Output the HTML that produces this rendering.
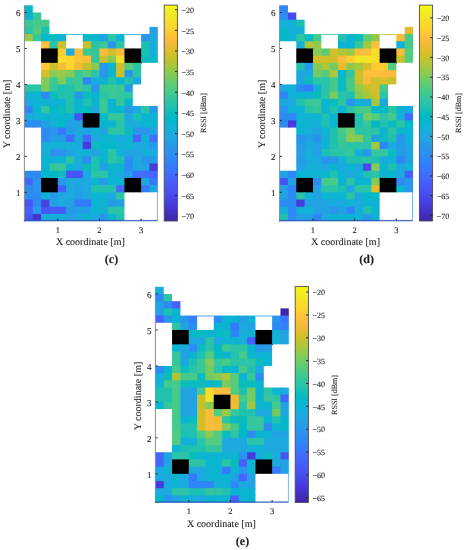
<!DOCTYPE html>
<html><head><meta charset="utf-8"><style>
*{margin:0;padding:0;box-sizing:border-box}
html,body{width:466px;height:550px;background:#fff;overflow:hidden}
body{position:relative;font-family:"Liberation Serif", "Times New Roman", serif;color:#1e1e1e;-webkit-text-stroke:0.1px #1e1e1e;text-rendering:geometricPrecision}
.fig{position:absolute;left:0;top:0;display:block;filter:blur(0.35px)}
.yl,.xl,.lab,.cl,.cbl,.pl{filter:blur(0.25px)}
.ln{position:absolute;background:#8c8c8c}
.tk{position:absolute;background:#262626}
.cbb{position:absolute;border:1px solid #4d4d4d}
.yl{position:absolute;width:20px;text-align:right;font-size:9px;line-height:12px}
.xl{position:absolute;width:20px;text-align:center;font-size:8.5px;line-height:12px}
.lab{position:absolute;width:100px;text-align:center;font-size:10px;line-height:12px;white-space:nowrap}
.cl{position:absolute;font-size:8px;line-height:10px;white-space:nowrap}
.cbl{position:absolute;width:80px;text-align:center;font-size:8px;line-height:10px;white-space:nowrap}
.rot{transform:rotate(-90deg)}
.pl{position:absolute;width:40px;text-align:center;font-size:12px;font-weight:bold;line-height:14px;color:#1a1a1a}
</style></head><body>
<svg class="fig" width="466" height="550" viewBox="0 0 466 550"><g transform="translate(24.40 5.30)"><rect x="0.00" y="0.00" width="8.34" height="7.89" fill="#03b8c9"/><rect x="0.00" y="7.19" width="9.04" height="7.89" fill="#0bb4d1"/><rect x="8.34" y="7.19" width="8.34" height="7.89" fill="#35c79b"/><rect x="0.00" y="14.39" width="9.04" height="7.89" fill="#35c79b"/><rect x="8.34" y="14.39" width="9.04" height="7.89" fill="#45ca89"/><rect x="16.68" y="14.39" width="8.34" height="7.89" fill="#45ca89"/><rect x="0.00" y="21.58" width="9.04" height="7.89" fill="#2cc4a6"/><rect x="8.34" y="21.58" width="9.04" height="7.89" fill="#52cc7e"/><rect x="16.68" y="21.58" width="8.34" height="7.89" fill="#19c0b4"/><rect x="125.06" y="21.58" width="8.34" height="7.89" fill="#21a3e3"/><rect x="0.00" y="28.77" width="9.04" height="7.19" fill="#98c947"/><rect x="8.34" y="28.77" width="9.04" height="7.19" fill="#35c79b"/><rect x="16.68" y="28.77" width="9.04" height="7.89" fill="#03b8c9"/><rect x="25.01" y="28.77" width="9.04" height="7.89" fill="#0bbcbe"/><rect x="33.35" y="28.77" width="8.34" height="7.89" fill="#13b0d8"/><rect x="58.36" y="28.77" width="9.04" height="7.89" fill="#03b9c5"/><rect x="66.70" y="28.77" width="9.04" height="7.89" fill="#0bb4d1"/><rect x="75.04" y="28.77" width="9.04" height="7.89" fill="#21a3e3"/><rect x="83.38" y="28.77" width="9.04" height="7.89" fill="#2cc4a6"/><rect x="91.71" y="28.77" width="8.34" height="7.89" fill="#0bb4d1"/><rect x="116.73" y="28.77" width="9.04" height="7.89" fill="#2995ec"/><rect x="125.06" y="28.77" width="8.34" height="7.89" fill="#1ca9df"/><rect x="16.68" y="35.97" width="9.04" height="7.89" fill="#fdc03a"/><rect x="25.01" y="35.97" width="9.04" height="7.89" fill="#2cc4a6"/><rect x="33.35" y="35.97" width="8.34" height="7.89" fill="#cac12a"/><rect x="58.36" y="35.97" width="9.04" height="7.89" fill="#c2c22d"/><rect x="66.70" y="35.97" width="9.04" height="7.89" fill="#2cc4a6"/><rect x="75.04" y="35.97" width="9.04" height="7.89" fill="#3ac895"/><rect x="83.38" y="35.97" width="9.04" height="7.89" fill="#2995ec"/><rect x="91.71" y="35.97" width="8.34" height="7.89" fill="#2cc4a6"/><rect x="116.73" y="35.97" width="9.04" height="7.89" fill="#19c0b4"/><rect x="125.06" y="35.97" width="8.34" height="7.89" fill="#17aeda"/><rect x="16.68" y="43.16" width="9.04" height="7.89" fill="#000"/><rect x="25.01" y="43.16" width="9.04" height="7.89" fill="#000"/><rect x="33.35" y="43.16" width="9.04" height="7.89" fill="#fdcc32"/><rect x="41.69" y="43.16" width="9.04" height="7.89" fill="#1ca9df"/><rect x="50.03" y="43.16" width="9.04" height="7.89" fill="#fbbd3b"/><rect x="58.36" y="43.16" width="9.04" height="7.89" fill="#3ac895"/><rect x="66.70" y="43.16" width="9.04" height="7.89" fill="#35c79b"/><rect x="75.04" y="43.16" width="9.04" height="7.89" fill="#fbbd3b"/><rect x="83.38" y="43.16" width="9.04" height="7.89" fill="#d1bf29"/><rect x="91.71" y="43.16" width="9.04" height="7.89" fill="#f7bc39"/><rect x="100.05" y="43.16" width="9.04" height="7.89" fill="#000"/><rect x="108.39" y="43.16" width="9.04" height="7.89" fill="#000"/><rect x="116.73" y="43.16" width="9.04" height="7.89" fill="#19c0b4"/><rect x="125.06" y="43.16" width="8.34" height="7.89" fill="#13b0d8"/><rect x="16.68" y="50.35" width="9.04" height="7.89" fill="#000"/><rect x="25.01" y="50.35" width="9.04" height="7.89" fill="#000"/><rect x="33.35" y="50.35" width="9.04" height="7.89" fill="#f8dc2a"/><rect x="41.69" y="50.35" width="9.04" height="7.89" fill="#fbd42e"/><rect x="50.03" y="50.35" width="9.04" height="7.89" fill="#fec438"/><rect x="58.36" y="50.35" width="9.04" height="7.89" fill="#fdc03a"/><rect x="66.70" y="50.35" width="9.04" height="7.89" fill="#35c79b"/><rect x="75.04" y="50.35" width="9.04" height="7.89" fill="#cac12a"/><rect x="83.38" y="50.35" width="9.04" height="7.89" fill="#86cb55"/><rect x="91.71" y="50.35" width="9.04" height="7.89" fill="#f6df29"/><rect x="100.05" y="50.35" width="9.04" height="7.89" fill="#000"/><rect x="108.39" y="50.35" width="9.04" height="7.89" fill="#000"/><rect x="116.73" y="50.35" width="9.04" height="7.19" fill="#0bbcbe"/><rect x="125.06" y="50.35" width="8.34" height="7.19" fill="#03b8c9"/><rect x="16.68" y="57.55" width="9.04" height="7.89" fill="#fec835"/><rect x="25.01" y="57.55" width="9.04" height="7.89" fill="#cac12a"/><rect x="33.35" y="57.55" width="9.04" height="7.89" fill="#f7bc39"/><rect x="41.69" y="57.55" width="9.04" height="7.89" fill="#fbd42e"/><rect x="50.03" y="57.55" width="9.04" height="7.89" fill="#f2bb37"/><rect x="58.36" y="57.55" width="9.04" height="7.89" fill="#c2c22d"/><rect x="66.70" y="57.55" width="9.04" height="7.89" fill="#86cb55"/><rect x="75.04" y="57.55" width="9.04" height="7.89" fill="#2995ec"/><rect x="83.38" y="57.55" width="9.04" height="7.89" fill="#0bb4d1"/><rect x="91.71" y="57.55" width="9.04" height="7.89" fill="#d1bf29"/><rect x="100.05" y="57.55" width="9.04" height="7.89" fill="#52cc7e"/><rect x="108.39" y="57.55" width="8.34" height="7.89" fill="#2cc4a6"/><rect x="16.68" y="64.74" width="9.04" height="7.89" fill="#d8be29"/><rect x="25.01" y="64.74" width="9.04" height="7.89" fill="#86cb55"/><rect x="33.35" y="64.74" width="9.04" height="7.89" fill="#98c947"/><rect x="41.69" y="64.74" width="9.04" height="7.89" fill="#86cb55"/><rect x="50.03" y="64.74" width="9.04" height="7.89" fill="#3ac895"/><rect x="58.36" y="64.74" width="9.04" height="7.89" fill="#52cc7e"/><rect x="66.70" y="64.74" width="9.04" height="7.89" fill="#2cc4a6"/><rect x="75.04" y="64.74" width="9.04" height="7.89" fill="#2995ec"/><rect x="83.38" y="64.74" width="9.04" height="7.89" fill="#0bb4d1"/><rect x="91.71" y="64.74" width="9.04" height="7.89" fill="#cac12a"/><rect x="100.05" y="64.74" width="9.04" height="7.89" fill="#259ae8"/><rect x="108.39" y="64.74" width="8.34" height="7.89" fill="#2cc4a6"/><rect x="16.68" y="71.93" width="9.04" height="7.89" fill="#86cb55"/><rect x="25.01" y="71.93" width="9.04" height="7.89" fill="#3ac895"/><rect x="33.35" y="71.93" width="9.04" height="7.89" fill="#7ccc5c"/><rect x="41.69" y="71.93" width="9.04" height="7.89" fill="#35c79b"/><rect x="50.03" y="71.93" width="9.04" height="7.89" fill="#3ac895"/><rect x="58.36" y="71.93" width="9.04" height="7.89" fill="#2e85f8"/><rect x="66.70" y="71.93" width="9.04" height="7.89" fill="#17aeda"/><rect x="75.04" y="71.93" width="9.04" height="7.89" fill="#0fb2d4"/><rect x="83.38" y="71.93" width="9.04" height="7.89" fill="#21c1af"/><rect x="91.71" y="71.93" width="9.04" height="7.89" fill="#06b6cd"/><rect x="100.05" y="71.93" width="9.04" height="7.89" fill="#21c1af"/><rect x="108.39" y="71.93" width="8.34" height="7.19" fill="#1ca9df"/><rect x="0.00" y="79.13" width="9.04" height="7.89" fill="#2cc4a6"/><rect x="8.34" y="79.13" width="9.04" height="7.89" fill="#2cc4a6"/><rect x="16.68" y="79.13" width="9.04" height="7.89" fill="#7ccc5c"/><rect x="25.01" y="79.13" width="9.04" height="7.89" fill="#35c79b"/><rect x="33.35" y="79.13" width="9.04" height="7.89" fill="#19c0b4"/><rect x="41.69" y="79.13" width="9.04" height="7.89" fill="#21c1af"/><rect x="50.03" y="79.13" width="9.04" height="7.89" fill="#3ac895"/><rect x="58.36" y="79.13" width="9.04" height="7.89" fill="#2cc4a6"/><rect x="66.70" y="79.13" width="9.04" height="7.89" fill="#2995ec"/><rect x="75.04" y="79.13" width="9.04" height="7.89" fill="#3ac895"/><rect x="83.38" y="79.13" width="9.04" height="7.89" fill="#3ac895"/><rect x="91.71" y="79.13" width="9.04" height="7.89" fill="#3ac895"/><rect x="100.05" y="79.13" width="8.34" height="7.89" fill="#259ae8"/><rect x="0.00" y="86.32" width="9.04" height="7.89" fill="#0fb2d4"/><rect x="8.34" y="86.32" width="9.04" height="7.89" fill="#0bb4d1"/><rect x="16.68" y="86.32" width="9.04" height="7.89" fill="#2d8cf3"/><rect x="25.01" y="86.32" width="9.04" height="7.89" fill="#0bbcbe"/><rect x="33.35" y="86.32" width="9.04" height="7.89" fill="#21c1af"/><rect x="41.69" y="86.32" width="9.04" height="7.89" fill="#21c1af"/><rect x="50.03" y="86.32" width="9.04" height="7.89" fill="#259ae8"/><rect x="58.36" y="86.32" width="9.04" height="7.89" fill="#0bbcbe"/><rect x="66.70" y="86.32" width="9.04" height="7.89" fill="#0bb4d1"/><rect x="75.04" y="86.32" width="9.04" height="7.89" fill="#2cc4a6"/><rect x="83.38" y="86.32" width="9.04" height="7.89" fill="#3ac895"/><rect x="91.71" y="86.32" width="9.04" height="7.89" fill="#35c79b"/><rect x="100.05" y="86.32" width="8.34" height="7.89" fill="#2cc4a6"/><rect x="0.00" y="93.51" width="9.04" height="7.89" fill="#1ca9df"/><rect x="8.34" y="93.51" width="9.04" height="7.89" fill="#0bb4d1"/><rect x="16.68" y="93.51" width="9.04" height="7.89" fill="#0fb2d4"/><rect x="25.01" y="93.51" width="9.04" height="7.89" fill="#0fb2d4"/><rect x="33.35" y="93.51" width="9.04" height="7.89" fill="#0bb4d1"/><rect x="41.69" y="93.51" width="9.04" height="7.89" fill="#21c1af"/><rect x="50.03" y="93.51" width="9.04" height="7.89" fill="#0bb4d1"/><rect x="58.36" y="93.51" width="9.04" height="7.89" fill="#21c1af"/><rect x="66.70" y="93.51" width="9.04" height="7.89" fill="#0bb4d1"/><rect x="75.04" y="93.51" width="9.04" height="7.89" fill="#3ac895"/><rect x="83.38" y="93.51" width="9.04" height="7.89" fill="#0bb4d1"/><rect x="91.71" y="93.51" width="9.04" height="7.89" fill="#35c79b"/><rect x="100.05" y="93.51" width="8.34" height="7.89" fill="#06b6cd"/><rect x="0.00" y="100.71" width="9.04" height="7.89" fill="#2e85f8"/><rect x="8.34" y="100.71" width="9.04" height="7.89" fill="#06b6cd"/><rect x="16.68" y="100.71" width="9.04" height="7.89" fill="#30c5a1"/><rect x="25.01" y="100.71" width="9.04" height="7.89" fill="#03b8c9"/><rect x="33.35" y="100.71" width="9.04" height="7.89" fill="#0bbcbe"/><rect x="41.69" y="100.71" width="9.04" height="7.89" fill="#21c1af"/><rect x="50.03" y="100.71" width="9.04" height="7.89" fill="#03b8c9"/><rect x="58.36" y="100.71" width="9.04" height="7.89" fill="#0bbcbe"/><rect x="66.70" y="100.71" width="9.04" height="7.89" fill="#1ca9df"/><rect x="75.04" y="100.71" width="9.04" height="7.89" fill="#3ac895"/><rect x="83.38" y="100.71" width="9.04" height="7.89" fill="#0bb4d1"/><rect x="91.71" y="100.71" width="9.04" height="7.89" fill="#06b6cd"/><rect x="100.05" y="100.71" width="9.04" height="7.89" fill="#259ae8"/><rect x="108.39" y="100.71" width="9.04" height="7.89" fill="#1ca9df"/><rect x="116.73" y="100.71" width="9.04" height="7.89" fill="#2cc4a6"/><rect x="125.06" y="100.71" width="8.34" height="7.89" fill="#259ae8"/><rect x="0.00" y="107.90" width="9.04" height="7.89" fill="#1ca9df"/><rect x="8.34" y="107.90" width="9.04" height="7.89" fill="#0fb2d4"/><rect x="16.68" y="107.90" width="9.04" height="7.89" fill="#0bb4d1"/><rect x="25.01" y="107.90" width="9.04" height="7.89" fill="#0bb4d1"/><rect x="33.35" y="107.90" width="9.04" height="7.89" fill="#06b6cd"/><rect x="41.69" y="107.90" width="9.04" height="7.89" fill="#0bb4d1"/><rect x="50.03" y="107.90" width="9.04" height="7.89" fill="#4755f5"/><rect x="58.36" y="107.90" width="9.04" height="7.89" fill="#000"/><rect x="66.70" y="107.90" width="9.04" height="7.89" fill="#000"/><rect x="75.04" y="107.90" width="9.04" height="7.89" fill="#03b8c9"/><rect x="83.38" y="107.90" width="9.04" height="7.89" fill="#35c79b"/><rect x="91.71" y="107.90" width="9.04" height="7.89" fill="#35c79b"/><rect x="100.05" y="107.90" width="9.04" height="7.89" fill="#1ca9df"/><rect x="108.39" y="107.90" width="9.04" height="7.89" fill="#19c0b4"/><rect x="116.73" y="107.90" width="9.04" height="7.89" fill="#0bb4d1"/><rect x="125.06" y="107.90" width="8.34" height="7.89" fill="#0bb4d1"/><rect x="0.00" y="115.09" width="9.04" height="7.19" fill="#2d8cf3"/><rect x="8.34" y="115.09" width="9.04" height="7.19" fill="#2d8cf3"/><rect x="16.68" y="115.09" width="9.04" height="7.89" fill="#249de7"/><rect x="25.01" y="115.09" width="9.04" height="7.89" fill="#13b0d8"/><rect x="33.35" y="115.09" width="9.04" height="7.89" fill="#03b8c9"/><rect x="41.69" y="115.09" width="9.04" height="7.89" fill="#21a3e3"/><rect x="50.03" y="115.09" width="9.04" height="7.89" fill="#21a3e3"/><rect x="58.36" y="115.09" width="9.04" height="7.89" fill="#000"/><rect x="66.70" y="115.09" width="9.04" height="7.89" fill="#000"/><rect x="75.04" y="115.09" width="9.04" height="7.89" fill="#0bb4d1"/><rect x="83.38" y="115.09" width="9.04" height="7.89" fill="#0bb4d1"/><rect x="91.71" y="115.09" width="9.04" height="7.89" fill="#2cc4a6"/><rect x="100.05" y="115.09" width="9.04" height="7.89" fill="#17aeda"/><rect x="108.39" y="115.09" width="9.04" height="7.89" fill="#17aeda"/><rect x="116.73" y="115.09" width="9.04" height="7.89" fill="#0bb4d1"/><rect x="125.06" y="115.09" width="8.34" height="7.89" fill="#0bb4d1"/><rect x="16.68" y="122.29" width="9.04" height="7.89" fill="#2d8cf3"/><rect x="25.01" y="122.29" width="9.04" height="7.89" fill="#2995ec"/><rect x="33.35" y="122.29" width="9.04" height="7.89" fill="#347afc"/><rect x="41.69" y="122.29" width="9.04" height="7.89" fill="#249de7"/><rect x="50.03" y="122.29" width="9.04" height="7.89" fill="#1ca9df"/><rect x="58.36" y="122.29" width="9.04" height="7.89" fill="#21a3e3"/><rect x="66.70" y="122.29" width="9.04" height="7.89" fill="#0bb4d1"/><rect x="75.04" y="122.29" width="9.04" height="7.89" fill="#21a3e3"/><rect x="83.38" y="122.29" width="9.04" height="7.89" fill="#2cc4a6"/><rect x="91.71" y="122.29" width="9.04" height="7.89" fill="#2cc4a6"/><rect x="100.05" y="122.29" width="9.04" height="7.89" fill="#0bbcbe"/><rect x="108.39" y="122.29" width="9.04" height="7.89" fill="#2995ec"/><rect x="116.73" y="122.29" width="9.04" height="7.89" fill="#2995ec"/><rect x="125.06" y="122.29" width="8.34" height="7.89" fill="#21a3e3"/><rect x="16.68" y="129.48" width="9.04" height="7.89" fill="#2d8cf3"/><rect x="25.01" y="129.48" width="9.04" height="7.89" fill="#249de7"/><rect x="33.35" y="129.48" width="9.04" height="7.89" fill="#249de7"/><rect x="41.69" y="129.48" width="9.04" height="7.89" fill="#3f6efe"/><rect x="50.03" y="129.48" width="9.04" height="7.89" fill="#1ca9df"/><rect x="58.36" y="129.48" width="9.04" height="7.89" fill="#4367fd"/><rect x="66.70" y="129.48" width="9.04" height="7.89" fill="#1ca9df"/><rect x="75.04" y="129.48" width="9.04" height="7.89" fill="#0bb4d1"/><rect x="83.38" y="129.48" width="9.04" height="7.89" fill="#0bb4d1"/><rect x="91.71" y="129.48" width="9.04" height="7.89" fill="#1ca9df"/><rect x="100.05" y="129.48" width="9.04" height="7.89" fill="#0bb4d1"/><rect x="108.39" y="129.48" width="9.04" height="7.89" fill="#4367fd"/><rect x="116.73" y="129.48" width="9.04" height="7.89" fill="#0fb2d4"/><rect x="125.06" y="129.48" width="8.34" height="7.89" fill="#3f6efe"/><rect x="16.68" y="136.67" width="9.04" height="7.89" fill="#13b0d8"/><rect x="25.01" y="136.67" width="9.04" height="7.89" fill="#13b0d8"/><rect x="33.35" y="136.67" width="9.04" height="7.89" fill="#13b0d8"/><rect x="41.69" y="136.67" width="9.04" height="7.89" fill="#13b0d8"/><rect x="50.03" y="136.67" width="9.04" height="7.89" fill="#1ca9df"/><rect x="58.36" y="136.67" width="9.04" height="7.89" fill="#463cdc"/><rect x="66.70" y="136.67" width="9.04" height="7.89" fill="#0bbcbe"/><rect x="75.04" y="136.67" width="9.04" height="7.89" fill="#06b6cd"/><rect x="83.38" y="136.67" width="9.04" height="7.89" fill="#03b8c9"/><rect x="91.71" y="136.67" width="9.04" height="7.89" fill="#0fb2d4"/><rect x="100.05" y="136.67" width="9.04" height="7.89" fill="#0bb4d1"/><rect x="108.39" y="136.67" width="9.04" height="7.89" fill="#1ca9df"/><rect x="116.73" y="136.67" width="9.04" height="7.89" fill="#1ca9df"/><rect x="125.06" y="136.67" width="8.34" height="7.89" fill="#259ae8"/><rect x="16.68" y="143.87" width="9.04" height="7.89" fill="#13b0d8"/><rect x="25.01" y="143.87" width="9.04" height="7.89" fill="#2b92ee"/><rect x="33.35" y="143.87" width="9.04" height="7.89" fill="#2b92ee"/><rect x="41.69" y="143.87" width="9.04" height="7.89" fill="#21a3e3"/><rect x="50.03" y="143.87" width="9.04" height="7.89" fill="#13b0d8"/><rect x="58.36" y="143.87" width="9.04" height="7.89" fill="#13b0d8"/><rect x="66.70" y="143.87" width="9.04" height="7.89" fill="#21a3e3"/><rect x="75.04" y="143.87" width="9.04" height="7.89" fill="#0bb4d1"/><rect x="83.38" y="143.87" width="9.04" height="7.89" fill="#2cc4a6"/><rect x="91.71" y="143.87" width="9.04" height="7.89" fill="#0fb2d4"/><rect x="100.05" y="143.87" width="9.04" height="7.89" fill="#21a3e3"/><rect x="108.39" y="143.87" width="9.04" height="7.89" fill="#21a3e3"/><rect x="116.73" y="143.87" width="9.04" height="7.89" fill="#0fb2d4"/><rect x="125.06" y="143.87" width="8.34" height="7.89" fill="#1ca9df"/><rect x="16.68" y="151.06" width="9.04" height="7.89" fill="#0bb4d1"/><rect x="25.01" y="151.06" width="9.04" height="7.89" fill="#0fb2d4"/><rect x="33.35" y="151.06" width="9.04" height="7.89" fill="#0bb4d1"/><rect x="41.69" y="151.06" width="9.04" height="7.89" fill="#2cc4a6"/><rect x="50.03" y="151.06" width="9.04" height="7.89" fill="#17aeda"/><rect x="58.36" y="151.06" width="9.04" height="7.89" fill="#2d8cf3"/><rect x="66.70" y="151.06" width="9.04" height="7.89" fill="#21c1af"/><rect x="75.04" y="151.06" width="9.04" height="7.89" fill="#0bb4d1"/><rect x="83.38" y="151.06" width="9.04" height="7.89" fill="#2cc4a6"/><rect x="91.71" y="151.06" width="9.04" height="7.89" fill="#21c1af"/><rect x="100.05" y="151.06" width="9.04" height="7.89" fill="#2d8cf3"/><rect x="108.39" y="151.06" width="9.04" height="7.89" fill="#1ca9df"/><rect x="116.73" y="151.06" width="9.04" height="7.89" fill="#2995ec"/><rect x="125.06" y="151.06" width="8.34" height="7.89" fill="#259ae8"/><rect x="16.68" y="158.25" width="9.04" height="7.89" fill="#0bb4d1"/><rect x="25.01" y="158.25" width="9.04" height="7.89" fill="#35c79b"/><rect x="33.35" y="158.25" width="9.04" height="7.89" fill="#35c79b"/><rect x="41.69" y="158.25" width="9.04" height="7.89" fill="#0bb4d1"/><rect x="50.03" y="158.25" width="9.04" height="7.89" fill="#1ca9df"/><rect x="58.36" y="158.25" width="9.04" height="7.89" fill="#0bbcbe"/><rect x="66.70" y="158.25" width="9.04" height="7.89" fill="#21c1af"/><rect x="75.04" y="158.25" width="9.04" height="7.89" fill="#21a3e3"/><rect x="83.38" y="158.25" width="9.04" height="7.89" fill="#0bb4d1"/><rect x="91.71" y="158.25" width="9.04" height="7.89" fill="#0bb4d1"/><rect x="100.05" y="158.25" width="9.04" height="7.89" fill="#2d8cf3"/><rect x="108.39" y="158.25" width="9.04" height="7.89" fill="#1ca9df"/><rect x="116.73" y="158.25" width="9.04" height="7.89" fill="#21a3e3"/><rect x="125.06" y="158.25" width="8.34" height="7.89" fill="#463cdc"/><rect x="0.00" y="165.45" width="9.04" height="7.89" fill="#2d8cf3"/><rect x="8.34" y="165.45" width="9.04" height="7.89" fill="#2d8cf3"/><rect x="16.68" y="165.45" width="9.04" height="7.89" fill="#03b8c9"/><rect x="25.01" y="165.45" width="9.04" height="7.89" fill="#03b8c9"/><rect x="33.35" y="165.45" width="9.04" height="7.89" fill="#0bbcbe"/><rect x="41.69" y="165.45" width="9.04" height="7.89" fill="#4755f5"/><rect x="50.03" y="165.45" width="9.04" height="7.89" fill="#4755f5"/><rect x="58.36" y="165.45" width="9.04" height="7.89" fill="#1ca9df"/><rect x="66.70" y="165.45" width="9.04" height="7.89" fill="#2cc4a6"/><rect x="75.04" y="165.45" width="9.04" height="7.89" fill="#2cc4a6"/><rect x="83.38" y="165.45" width="9.04" height="7.89" fill="#0bb4d1"/><rect x="91.71" y="165.45" width="9.04" height="7.89" fill="#1ca9df"/><rect x="100.05" y="165.45" width="9.04" height="7.89" fill="#259ae8"/><rect x="108.39" y="165.45" width="9.04" height="7.89" fill="#3f6efe"/><rect x="116.73" y="165.45" width="9.04" height="7.89" fill="#3f6efe"/><rect x="125.06" y="165.45" width="8.34" height="7.89" fill="#4367fd"/><rect x="0.00" y="172.64" width="9.04" height="7.89" fill="#4367fd"/><rect x="8.34" y="172.64" width="9.04" height="7.89" fill="#2995ec"/><rect x="16.68" y="172.64" width="9.04" height="7.89" fill="#000"/><rect x="25.01" y="172.64" width="9.04" height="7.89" fill="#000"/><rect x="33.35" y="172.64" width="9.04" height="7.89" fill="#2995ec"/><rect x="41.69" y="172.64" width="9.04" height="7.89" fill="#1ca9df"/><rect x="50.03" y="172.64" width="9.04" height="7.89" fill="#1ca9df"/><rect x="58.36" y="172.64" width="9.04" height="7.89" fill="#1ca9df"/><rect x="66.70" y="172.64" width="9.04" height="7.89" fill="#0bb4d1"/><rect x="75.04" y="172.64" width="9.04" height="7.89" fill="#259ae8"/><rect x="83.38" y="172.64" width="9.04" height="7.89" fill="#0bb4d1"/><rect x="91.71" y="172.64" width="9.04" height="7.89" fill="#0bb4d1"/><rect x="100.05" y="172.64" width="9.04" height="7.89" fill="#000"/><rect x="108.39" y="172.64" width="9.04" height="7.89" fill="#000"/><rect x="116.73" y="172.64" width="9.04" height="7.89" fill="#1ca9df"/><rect x="125.06" y="172.64" width="8.34" height="7.89" fill="#347afc"/><rect x="0.00" y="179.83" width="9.04" height="7.89" fill="#2d8cf3"/><rect x="8.34" y="179.83" width="9.04" height="7.89" fill="#2995ec"/><rect x="16.68" y="179.83" width="9.04" height="7.89" fill="#000"/><rect x="25.01" y="179.83" width="9.04" height="7.89" fill="#000"/><rect x="33.35" y="179.83" width="9.04" height="7.89" fill="#4560fb"/><rect x="41.69" y="179.83" width="9.04" height="7.89" fill="#1ca9df"/><rect x="50.03" y="179.83" width="9.04" height="7.89" fill="#21a3e3"/><rect x="58.36" y="179.83" width="9.04" height="7.89" fill="#1ca9df"/><rect x="66.70" y="179.83" width="9.04" height="7.89" fill="#21c1af"/><rect x="75.04" y="179.83" width="9.04" height="7.89" fill="#21c1af"/><rect x="83.38" y="179.83" width="9.04" height="7.89" fill="#21c1af"/><rect x="91.71" y="179.83" width="9.04" height="7.89" fill="#3f6efe"/><rect x="100.05" y="179.83" width="9.04" height="7.19" fill="#000"/><rect x="108.39" y="179.83" width="9.04" height="7.19" fill="#000"/><rect x="116.73" y="179.83" width="9.04" height="7.19" fill="#347afc"/><rect x="125.06" y="179.83" width="8.34" height="7.19" fill="#1ca9df"/><rect x="0.00" y="187.03" width="9.04" height="7.89" fill="#2d8cf3"/><rect x="8.34" y="187.03" width="9.04" height="7.89" fill="#2d8cf3"/><rect x="16.68" y="187.03" width="9.04" height="7.89" fill="#0fb2d4"/><rect x="25.01" y="187.03" width="9.04" height="7.89" fill="#259ae8"/><rect x="33.35" y="187.03" width="9.04" height="7.89" fill="#1ca9df"/><rect x="41.69" y="187.03" width="9.04" height="7.89" fill="#1ca9df"/><rect x="50.03" y="187.03" width="9.04" height="7.89" fill="#259ae8"/><rect x="58.36" y="187.03" width="9.04" height="7.89" fill="#1ca9df"/><rect x="66.70" y="187.03" width="9.04" height="7.89" fill="#0bb4d1"/><rect x="75.04" y="187.03" width="9.04" height="7.89" fill="#0bb4d1"/><rect x="83.38" y="187.03" width="9.04" height="7.89" fill="#1ca9df"/><rect x="91.71" y="187.03" width="8.34" height="7.89" fill="#2cc4a6"/><rect x="0.00" y="194.22" width="9.04" height="7.89" fill="#4755f5"/><rect x="8.34" y="194.22" width="9.04" height="7.89" fill="#2d8cf3"/><rect x="16.68" y="194.22" width="9.04" height="7.89" fill="#4743e5"/><rect x="25.01" y="194.22" width="9.04" height="7.89" fill="#21a3e3"/><rect x="33.35" y="194.22" width="9.04" height="7.89" fill="#1ca9df"/><rect x="41.69" y="194.22" width="9.04" height="7.89" fill="#21a3e3"/><rect x="50.03" y="194.22" width="9.04" height="7.89" fill="#347afc"/><rect x="58.36" y="194.22" width="9.04" height="7.89" fill="#347afc"/><rect x="66.70" y="194.22" width="9.04" height="7.89" fill="#0bb4d1"/><rect x="75.04" y="194.22" width="9.04" height="7.89" fill="#0bb4d1"/><rect x="83.38" y="194.22" width="9.04" height="7.89" fill="#259ae8"/><rect x="91.71" y="194.22" width="8.34" height="7.89" fill="#21a3e3"/><rect x="0.00" y="201.41" width="9.04" height="7.89" fill="#4560fb"/><rect x="8.34" y="201.41" width="9.04" height="7.89" fill="#2995ec"/><rect x="16.68" y="201.41" width="9.04" height="7.89" fill="#4755f5"/><rect x="25.01" y="201.41" width="9.04" height="7.89" fill="#465cf9"/><rect x="33.35" y="201.41" width="9.04" height="7.89" fill="#465cf9"/><rect x="41.69" y="201.41" width="9.04" height="7.89" fill="#259ae8"/><rect x="50.03" y="201.41" width="9.04" height="7.89" fill="#249de7"/><rect x="58.36" y="201.41" width="9.04" height="7.89" fill="#22a0e5"/><rect x="66.70" y="201.41" width="9.04" height="7.89" fill="#0bb4d1"/><rect x="75.04" y="201.41" width="9.04" height="7.89" fill="#0fb2d4"/><rect x="83.38" y="201.41" width="9.04" height="7.89" fill="#2cc4a6"/><rect x="91.71" y="201.41" width="8.34" height="7.89" fill="#2cc4a6"/><rect x="0.00" y="208.61" width="9.04" height="7.19" fill="#4755f5"/><rect x="8.34" y="208.61" width="9.04" height="7.19" fill="#4536d3"/><rect x="16.68" y="208.61" width="9.04" height="7.19" fill="#13b0d8"/><rect x="25.01" y="208.61" width="9.04" height="7.19" fill="#13b0d8"/><rect x="33.35" y="208.61" width="9.04" height="7.19" fill="#13b0d8"/><rect x="41.69" y="208.61" width="9.04" height="7.19" fill="#21a3e3"/><rect x="50.03" y="208.61" width="9.04" height="7.19" fill="#1ca9df"/><rect x="58.36" y="208.61" width="9.04" height="7.19" fill="#0bb4d1"/><rect x="66.70" y="208.61" width="9.04" height="7.19" fill="#1ca9df"/><rect x="75.04" y="208.61" width="9.04" height="7.19" fill="#2995ec"/><rect x="83.38" y="208.61" width="9.04" height="7.19" fill="#0bb4d1"/><rect x="91.71" y="208.61" width="8.34" height="7.19" fill="#21c1af"/></g>
<rect x="23.90" y="5.30" width="1" height="216.10" fill="#8c8c8c"/>
<rect x="23.90" y="219.90" width="133.70" height="1.4" fill="#3458b8" fill-opacity="0.85"/>
<rect x="66.09" y="34.07" width="16.68" height="0.8" fill="#08b5cf"/>
<rect x="124.45" y="34.07" width="16.68" height="0.8" fill="#1fa6e1"/>
<rect x="156.90" y="192.33" width="0.8" height="27.77" fill="#5aa0f0"/>
<rect x="24.70" y="191.83" width="2" height="1" fill="#262626"/>
<rect x="24.70" y="155.86" width="2" height="1" fill="#262626"/>
<rect x="24.70" y="119.89" width="2" height="1" fill="#262626"/>
<rect x="24.70" y="83.93" width="2" height="1" fill="#262626"/>
<rect x="24.70" y="47.96" width="2" height="1" fill="#262626"/>
<rect x="24.70" y="11.99" width="2" height="1" fill="#262626"/>
<rect x="57.25" y="218.50" width="1" height="2" fill="#262626"/>
<rect x="98.94" y="218.50" width="1" height="2" fill="#262626"/>
<rect x="140.62" y="218.50" width="1" height="2" fill="#262626"/>
<defs><linearGradient id="gc" x1="0" y1="0" x2="0" y2="1"><stop offset="0.0000" stop-color="#f9fb0e"/><stop offset="0.0159" stop-color="#f5f31a"/><stop offset="0.0317" stop-color="#f3ec23"/><stop offset="0.0476" stop-color="#f4e725"/><stop offset="0.0635" stop-color="#f5e228"/><stop offset="0.0794" stop-color="#f8dc2a"/><stop offset="0.0952" stop-color="#fad62d"/><stop offset="0.1111" stop-color="#fcd030"/><stop offset="0.1270" stop-color="#fec934"/><stop offset="0.1429" stop-color="#fec239"/><stop offset="0.1587" stop-color="#fcbd3b"/><stop offset="0.1746" stop-color="#f5bb38"/><stop offset="0.1905" stop-color="#edba34"/><stop offset="0.2063" stop-color="#e2bc2d"/><stop offset="0.2222" stop-color="#d7be29"/><stop offset="0.2381" stop-color="#cbc12a"/><stop offset="0.2540" stop-color="#bfc32e"/><stop offset="0.2698" stop-color="#b2c535"/><stop offset="0.2857" stop-color="#a4c83e"/><stop offset="0.3016" stop-color="#96ca48"/><stop offset="0.3175" stop-color="#88cb53"/><stop offset="0.3333" stop-color="#79cc5e"/><stop offset="0.3492" stop-color="#6bcd69"/><stop offset="0.3651" stop-color="#5ecc74"/><stop offset="0.3810" stop-color="#52cc7e"/><stop offset="0.3968" stop-color="#47cb87"/><stop offset="0.4127" stop-color="#3dc991"/><stop offset="0.4286" stop-color="#35c79b"/><stop offset="0.4444" stop-color="#2ec5a3"/><stop offset="0.4603" stop-color="#28c3ab"/><stop offset="0.4762" stop-color="#1dc0b2"/><stop offset="0.4921" stop-color="#0fbeba"/><stop offset="0.5079" stop-color="#07bbc1"/><stop offset="0.5238" stop-color="#02b9c7"/><stop offset="0.5397" stop-color="#06b6cd"/><stop offset="0.5556" stop-color="#0db3d3"/><stop offset="0.5714" stop-color="#14b0d8"/><stop offset="0.5873" stop-color="#19acdc"/><stop offset="0.6032" stop-color="#1da8e0"/><stop offset="0.6190" stop-color="#21a4e3"/><stop offset="0.6349" stop-color="#239fe6"/><stop offset="0.6508" stop-color="#259ae9"/><stop offset="0.6667" stop-color="#2896ec"/><stop offset="0.6825" stop-color="#2b91ef"/><stop offset="0.6984" stop-color="#2d8cf3"/><stop offset="0.7143" stop-color="#2e87f7"/><stop offset="0.7302" stop-color="#3081fa"/><stop offset="0.7460" stop-color="#337cfc"/><stop offset="0.7619" stop-color="#3875fd"/><stop offset="0.7778" stop-color="#3e6ffe"/><stop offset="0.7937" stop-color="#4269fe"/><stop offset="0.8095" stop-color="#4563fd"/><stop offset="0.8254" stop-color="#465efa"/><stop offset="0.8413" stop-color="#4658f6"/><stop offset="0.8571" stop-color="#4752f3"/><stop offset="0.8730" stop-color="#484df0"/><stop offset="0.8889" stop-color="#4747e9"/><stop offset="0.9048" stop-color="#4642e3"/><stop offset="0.9206" stop-color="#463cdc"/><stop offset="0.9365" stop-color="#4537d5"/><stop offset="0.9524" stop-color="#4333ca"/><stop offset="0.9683" stop-color="#412fbf"/><stop offset="0.9841" stop-color="#402ab4"/><stop offset="1.0000" stop-color="#3e26a8"/></linearGradient></defs>
<rect x="164.20" y="5.10" width="13.20" height="215.90" fill="url(#gc)" stroke="#4d4d4d" stroke-width="0.9"/>
<rect x="175.00" y="9.22" width="2.4" height="1" fill="#262626"/>
<rect x="175.00" y="29.85" width="2.4" height="1" fill="#262626"/>
<rect x="175.00" y="50.48" width="2.4" height="1" fill="#262626"/>
<rect x="175.00" y="71.11" width="2.4" height="1" fill="#262626"/>
<rect x="175.00" y="91.74" width="2.4" height="1" fill="#262626"/>
<rect x="175.00" y="112.36" width="2.4" height="1" fill="#262626"/>
<rect x="175.00" y="132.99" width="2.4" height="1" fill="#262626"/>
<rect x="175.00" y="153.62" width="2.4" height="1" fill="#262626"/>
<rect x="175.00" y="174.25" width="2.4" height="1" fill="#262626"/>
<rect x="175.00" y="194.88" width="2.4" height="1" fill="#262626"/>
<rect x="175.00" y="215.51" width="2.4" height="1" fill="#262626"/>
<g transform="translate(279.60 5.30)"><rect x="0.00" y="0.00" width="8.34" height="7.89" fill="#2e85f8"/><rect x="0.00" y="7.19" width="9.04" height="7.89" fill="#2d8cf3"/><rect x="8.34" y="7.19" width="8.34" height="7.89" fill="#474aed"/><rect x="0.00" y="14.39" width="9.04" height="7.89" fill="#13b0d8"/><rect x="8.34" y="14.39" width="9.04" height="7.89" fill="#13b0d8"/><rect x="16.68" y="14.39" width="8.34" height="7.89" fill="#19c0b4"/><rect x="0.00" y="21.58" width="9.04" height="7.89" fill="#03b8c9"/><rect x="8.34" y="21.58" width="9.04" height="7.89" fill="#13b0d8"/><rect x="16.68" y="21.58" width="8.34" height="7.89" fill="#13b0d8"/><rect x="125.06" y="21.58" width="8.34" height="7.89" fill="#e6bb30"/><rect x="0.00" y="28.77" width="9.04" height="7.19" fill="#03b8c9"/><rect x="8.34" y="28.77" width="9.04" height="7.19" fill="#0bb4d1"/><rect x="16.68" y="28.77" width="9.04" height="7.89" fill="#2cc4a6"/><rect x="25.01" y="28.77" width="9.04" height="7.89" fill="#0bbcbe"/><rect x="33.35" y="28.77" width="8.34" height="7.89" fill="#45ca89"/><rect x="58.36" y="28.77" width="9.04" height="7.89" fill="#21c1af"/><rect x="66.70" y="28.77" width="9.04" height="7.89" fill="#0bb4d1"/><rect x="75.04" y="28.77" width="9.04" height="7.89" fill="#0bbcbe"/><rect x="83.38" y="28.77" width="9.04" height="7.89" fill="#62cc71"/><rect x="91.71" y="28.77" width="8.34" height="7.89" fill="#8fca4e"/><rect x="116.73" y="28.77" width="9.04" height="7.89" fill="#f7bc39"/><rect x="125.06" y="28.77" width="8.34" height="7.89" fill="#45ca89"/><rect x="16.68" y="35.97" width="9.04" height="7.89" fill="#13b0d8"/><rect x="25.01" y="35.97" width="9.04" height="7.89" fill="#a9c73b"/><rect x="33.35" y="35.97" width="8.34" height="7.89" fill="#8fca4e"/><rect x="58.36" y="35.97" width="9.04" height="7.89" fill="#0bb4d1"/><rect x="66.70" y="35.97" width="9.04" height="7.89" fill="#0bb4d1"/><rect x="75.04" y="35.97" width="9.04" height="7.89" fill="#35c79b"/><rect x="83.38" y="35.97" width="9.04" height="7.89" fill="#a1c841"/><rect x="91.71" y="35.97" width="8.34" height="7.89" fill="#fdc03a"/><rect x="116.73" y="35.97" width="9.04" height="7.89" fill="#13b0d8"/><rect x="125.06" y="35.97" width="8.34" height="7.89" fill="#45ca89"/><rect x="16.68" y="43.16" width="9.04" height="7.89" fill="#000"/><rect x="25.01" y="43.16" width="9.04" height="7.89" fill="#000"/><rect x="33.35" y="43.16" width="9.04" height="7.89" fill="#86cb55"/><rect x="41.69" y="43.16" width="9.04" height="7.89" fill="#5acc78"/><rect x="50.03" y="43.16" width="9.04" height="7.89" fill="#d1bf29"/><rect x="58.36" y="43.16" width="9.04" height="7.89" fill="#b2c535"/><rect x="66.70" y="43.16" width="9.04" height="7.89" fill="#98c947"/><rect x="75.04" y="43.16" width="9.04" height="7.89" fill="#fbbd3b"/><rect x="83.38" y="43.16" width="9.04" height="7.89" fill="#fbbd3b"/><rect x="91.71" y="43.16" width="9.04" height="7.89" fill="#f8dc2a"/><rect x="100.05" y="43.16" width="9.04" height="7.89" fill="#000"/><rect x="108.39" y="43.16" width="9.04" height="7.89" fill="#000"/><rect x="116.73" y="43.16" width="9.04" height="7.89" fill="#f7bc39"/><rect x="125.06" y="43.16" width="8.34" height="7.89" fill="#52cc7e"/><rect x="16.68" y="50.35" width="9.04" height="7.89" fill="#000"/><rect x="25.01" y="50.35" width="9.04" height="7.89" fill="#000"/><rect x="33.35" y="50.35" width="9.04" height="7.89" fill="#d1bf29"/><rect x="41.69" y="50.35" width="9.04" height="7.89" fill="#d1bf29"/><rect x="50.03" y="50.35" width="9.04" height="7.89" fill="#d1bf29"/><rect x="58.36" y="50.35" width="9.04" height="7.89" fill="#fbbd3b"/><rect x="66.70" y="50.35" width="9.04" height="7.89" fill="#fcd030"/><rect x="75.04" y="50.35" width="9.04" height="7.89" fill="#f4e626"/><rect x="83.38" y="50.35" width="9.04" height="7.89" fill="#f4e626"/><rect x="91.71" y="50.35" width="9.04" height="7.89" fill="#f6df29"/><rect x="100.05" y="50.35" width="9.04" height="7.89" fill="#000"/><rect x="108.39" y="50.35" width="9.04" height="7.89" fill="#000"/><rect x="116.73" y="50.35" width="9.04" height="7.19" fill="#cac12a"/><rect x="125.06" y="50.35" width="8.34" height="7.19" fill="#52cc7e"/><rect x="16.68" y="57.55" width="9.04" height="7.89" fill="#21c1af"/><rect x="25.01" y="57.55" width="9.04" height="7.89" fill="#259ae8"/><rect x="33.35" y="57.55" width="9.04" height="7.89" fill="#86cb55"/><rect x="41.69" y="57.55" width="9.04" height="7.89" fill="#a9c73b"/><rect x="50.03" y="57.55" width="9.04" height="7.89" fill="#73cc63"/><rect x="58.36" y="57.55" width="9.04" height="7.89" fill="#e6bb30"/><rect x="66.70" y="57.55" width="9.04" height="7.89" fill="#8fca4e"/><rect x="75.04" y="57.55" width="9.04" height="7.89" fill="#a9c73b"/><rect x="83.38" y="57.55" width="9.04" height="7.89" fill="#d8be29"/><rect x="91.71" y="57.55" width="9.04" height="7.89" fill="#fdcc32"/><rect x="100.05" y="57.55" width="9.04" height="7.89" fill="#fdcc32"/><rect x="108.39" y="57.55" width="8.34" height="7.89" fill="#52cc7e"/><rect x="16.68" y="64.74" width="9.04" height="7.89" fill="#1ca9df"/><rect x="25.01" y="64.74" width="9.04" height="7.89" fill="#1ca9df"/><rect x="33.35" y="64.74" width="9.04" height="7.89" fill="#73cc63"/><rect x="41.69" y="64.74" width="9.04" height="7.89" fill="#5acc78"/><rect x="50.03" y="64.74" width="9.04" height="7.89" fill="#a9c73b"/><rect x="58.36" y="64.74" width="9.04" height="7.89" fill="#0bb4d1"/><rect x="66.70" y="64.74" width="9.04" height="7.89" fill="#35c79b"/><rect x="75.04" y="64.74" width="9.04" height="7.89" fill="#d1bf29"/><rect x="83.38" y="64.74" width="9.04" height="7.89" fill="#fdc03a"/><rect x="91.71" y="64.74" width="9.04" height="7.89" fill="#fdc03a"/><rect x="100.05" y="64.74" width="9.04" height="7.89" fill="#fbbd3b"/><rect x="108.39" y="64.74" width="8.34" height="7.89" fill="#fbbd3b"/><rect x="16.68" y="71.93" width="9.04" height="7.89" fill="#1ca9df"/><rect x="25.01" y="71.93" width="9.04" height="7.89" fill="#0bbcbe"/><rect x="33.35" y="71.93" width="9.04" height="7.89" fill="#2cc4a6"/><rect x="41.69" y="71.93" width="9.04" height="7.89" fill="#2cc4a6"/><rect x="50.03" y="71.93" width="9.04" height="7.89" fill="#45ca89"/><rect x="58.36" y="71.93" width="9.04" height="7.89" fill="#0bbcbe"/><rect x="66.70" y="71.93" width="9.04" height="7.89" fill="#45ca89"/><rect x="75.04" y="71.93" width="9.04" height="7.89" fill="#cac12a"/><rect x="83.38" y="71.93" width="9.04" height="7.89" fill="#f7bc39"/><rect x="91.71" y="71.93" width="9.04" height="7.89" fill="#d1bf29"/><rect x="100.05" y="71.93" width="9.04" height="7.89" fill="#d8be29"/><rect x="108.39" y="71.93" width="8.34" height="7.19" fill="#cac12a"/><rect x="0.00" y="79.13" width="9.04" height="7.89" fill="#1ca9df"/><rect x="8.34" y="79.13" width="9.04" height="7.89" fill="#13b0d8"/><rect x="16.68" y="79.13" width="9.04" height="7.89" fill="#2d8cf3"/><rect x="25.01" y="79.13" width="9.04" height="7.89" fill="#347afc"/><rect x="33.35" y="79.13" width="9.04" height="7.89" fill="#0fb2d4"/><rect x="41.69" y="79.13" width="9.04" height="7.89" fill="#2cc4a6"/><rect x="50.03" y="79.13" width="9.04" height="7.89" fill="#45ca89"/><rect x="58.36" y="79.13" width="9.04" height="7.89" fill="#0bbcbe"/><rect x="66.70" y="79.13" width="9.04" height="7.89" fill="#45ca89"/><rect x="75.04" y="79.13" width="9.04" height="7.89" fill="#98c947"/><rect x="83.38" y="79.13" width="9.04" height="7.89" fill="#c2c22d"/><rect x="91.71" y="79.13" width="9.04" height="7.89" fill="#d8be29"/><rect x="100.05" y="79.13" width="8.34" height="7.89" fill="#45ca89"/><rect x="0.00" y="86.32" width="9.04" height="7.89" fill="#2e85f8"/><rect x="8.34" y="86.32" width="9.04" height="7.89" fill="#13b0d8"/><rect x="16.68" y="86.32" width="9.04" height="7.89" fill="#0bb4d1"/><rect x="25.01" y="86.32" width="9.04" height="7.89" fill="#0bb4d1"/><rect x="33.35" y="86.32" width="9.04" height="7.89" fill="#0bbcbe"/><rect x="41.69" y="86.32" width="9.04" height="7.89" fill="#2cc4a6"/><rect x="50.03" y="86.32" width="9.04" height="7.89" fill="#7ccc5c"/><rect x="58.36" y="86.32" width="9.04" height="7.89" fill="#2cc4a6"/><rect x="66.70" y="86.32" width="9.04" height="7.89" fill="#21c1af"/><rect x="75.04" y="86.32" width="9.04" height="7.89" fill="#86cb55"/><rect x="83.38" y="86.32" width="9.04" height="7.89" fill="#a9c73b"/><rect x="91.71" y="86.32" width="9.04" height="7.89" fill="#d1bf29"/><rect x="100.05" y="86.32" width="8.34" height="7.89" fill="#2cc4a6"/><rect x="0.00" y="93.51" width="9.04" height="7.89" fill="#1ca9df"/><rect x="8.34" y="93.51" width="9.04" height="7.89" fill="#1ca9df"/><rect x="16.68" y="93.51" width="9.04" height="7.89" fill="#21c1af"/><rect x="25.01" y="93.51" width="9.04" height="7.89" fill="#3ac895"/><rect x="33.35" y="93.51" width="9.04" height="7.89" fill="#3ac895"/><rect x="41.69" y="93.51" width="9.04" height="7.89" fill="#0bb4d1"/><rect x="50.03" y="93.51" width="9.04" height="7.89" fill="#0bbcbe"/><rect x="58.36" y="93.51" width="9.04" height="7.89" fill="#2cc4a6"/><rect x="66.70" y="93.51" width="9.04" height="7.89" fill="#2995ec"/><rect x="75.04" y="93.51" width="9.04" height="7.89" fill="#13b0d8"/><rect x="83.38" y="93.51" width="9.04" height="7.89" fill="#1ca9df"/><rect x="91.71" y="93.51" width="9.04" height="7.89" fill="#a1c841"/><rect x="100.05" y="93.51" width="8.34" height="7.89" fill="#1ca9df"/><rect x="0.00" y="100.71" width="9.04" height="7.89" fill="#2995ec"/><rect x="8.34" y="100.71" width="9.04" height="7.89" fill="#13b0d8"/><rect x="16.68" y="100.71" width="9.04" height="7.89" fill="#0bb4d1"/><rect x="25.01" y="100.71" width="9.04" height="7.89" fill="#2cc4a6"/><rect x="33.35" y="100.71" width="9.04" height="7.89" fill="#35c79b"/><rect x="41.69" y="100.71" width="9.04" height="7.89" fill="#0bb4d1"/><rect x="50.03" y="100.71" width="9.04" height="7.89" fill="#21c1af"/><rect x="58.36" y="100.71" width="9.04" height="7.89" fill="#0bb4d1"/><rect x="66.70" y="100.71" width="9.04" height="7.89" fill="#2cc4a6"/><rect x="75.04" y="100.71" width="9.04" height="7.89" fill="#45ca89"/><rect x="83.38" y="100.71" width="9.04" height="7.89" fill="#45ca89"/><rect x="91.71" y="100.71" width="9.04" height="7.89" fill="#03b8c9"/><rect x="100.05" y="100.71" width="9.04" height="7.89" fill="#03b9c5"/><rect x="108.39" y="100.71" width="9.04" height="7.89" fill="#2cc4a6"/><rect x="116.73" y="100.71" width="9.04" height="7.89" fill="#0bb4d1"/><rect x="125.06" y="100.71" width="8.34" height="7.89" fill="#1ca9df"/><rect x="0.00" y="107.90" width="9.04" height="7.89" fill="#2d8cf3"/><rect x="8.34" y="107.90" width="9.04" height="7.89" fill="#2d8cf3"/><rect x="16.68" y="107.90" width="9.04" height="7.89" fill="#13b0d8"/><rect x="25.01" y="107.90" width="9.04" height="7.89" fill="#0bb4d1"/><rect x="33.35" y="107.90" width="9.04" height="7.89" fill="#0bb4d1"/><rect x="41.69" y="107.90" width="9.04" height="7.89" fill="#19c0b4"/><rect x="50.03" y="107.90" width="9.04" height="7.89" fill="#0bb4d1"/><rect x="58.36" y="107.90" width="9.04" height="7.89" fill="#000"/><rect x="66.70" y="107.90" width="9.04" height="7.89" fill="#000"/><rect x="75.04" y="107.90" width="9.04" height="7.89" fill="#21c1af"/><rect x="83.38" y="107.90" width="9.04" height="7.89" fill="#73cc63"/><rect x="91.71" y="107.90" width="9.04" height="7.89" fill="#52cc7e"/><rect x="100.05" y="107.90" width="9.04" height="7.89" fill="#2cc4a6"/><rect x="108.39" y="107.90" width="9.04" height="7.89" fill="#45ca89"/><rect x="116.73" y="107.90" width="9.04" height="7.89" fill="#13b0d8"/><rect x="125.06" y="107.90" width="8.34" height="7.89" fill="#3f6efe"/><rect x="0.00" y="115.09" width="9.04" height="7.19" fill="#2d8cf3"/><rect x="8.34" y="115.09" width="9.04" height="7.19" fill="#463cdc"/><rect x="16.68" y="115.09" width="9.04" height="7.89" fill="#0bb4d1"/><rect x="25.01" y="115.09" width="9.04" height="7.89" fill="#0bb4d1"/><rect x="33.35" y="115.09" width="9.04" height="7.89" fill="#17aeda"/><rect x="41.69" y="115.09" width="9.04" height="7.89" fill="#21c1af"/><rect x="50.03" y="115.09" width="9.04" height="7.89" fill="#0bb4d1"/><rect x="58.36" y="115.09" width="9.04" height="7.89" fill="#000"/><rect x="66.70" y="115.09" width="9.04" height="7.89" fill="#000"/><rect x="75.04" y="115.09" width="9.04" height="7.89" fill="#21c1af"/><rect x="83.38" y="115.09" width="9.04" height="7.89" fill="#35c79b"/><rect x="91.71" y="115.09" width="9.04" height="7.89" fill="#03b9c5"/><rect x="100.05" y="115.09" width="9.04" height="7.89" fill="#21c1af"/><rect x="108.39" y="115.09" width="9.04" height="7.89" fill="#0bbcbe"/><rect x="116.73" y="115.09" width="9.04" height="7.89" fill="#2cc4a6"/><rect x="125.06" y="115.09" width="8.34" height="7.89" fill="#03b9c5"/><rect x="16.68" y="122.29" width="9.04" height="7.89" fill="#0bb4d1"/><rect x="25.01" y="122.29" width="9.04" height="7.89" fill="#17aeda"/><rect x="33.35" y="122.29" width="9.04" height="7.89" fill="#21a3e3"/><rect x="41.69" y="122.29" width="9.04" height="7.89" fill="#0bb4d1"/><rect x="50.03" y="122.29" width="9.04" height="7.89" fill="#21c1af"/><rect x="58.36" y="122.29" width="9.04" height="7.89" fill="#45ca89"/><rect x="66.70" y="122.29" width="9.04" height="7.89" fill="#73cc63"/><rect x="75.04" y="122.29" width="9.04" height="7.89" fill="#2cc4a6"/><rect x="83.38" y="122.29" width="9.04" height="7.89" fill="#2cc4a6"/><rect x="91.71" y="122.29" width="9.04" height="7.89" fill="#2cc4a6"/><rect x="100.05" y="122.29" width="9.04" height="7.89" fill="#0bb4d1"/><rect x="108.39" y="122.29" width="9.04" height="7.89" fill="#2cc4a6"/><rect x="116.73" y="122.29" width="9.04" height="7.89" fill="#0bb4d1"/><rect x="125.06" y="122.29" width="8.34" height="7.89" fill="#0bb4d1"/><rect x="16.68" y="129.48" width="9.04" height="7.89" fill="#2b92ee"/><rect x="25.01" y="129.48" width="9.04" height="7.89" fill="#21a3e3"/><rect x="33.35" y="129.48" width="9.04" height="7.89" fill="#2b92ee"/><rect x="41.69" y="129.48" width="9.04" height="7.89" fill="#13b0d8"/><rect x="50.03" y="129.48" width="9.04" height="7.89" fill="#21c1af"/><rect x="58.36" y="129.48" width="9.04" height="7.89" fill="#3ac895"/><rect x="66.70" y="129.48" width="9.04" height="7.89" fill="#8fca4e"/><rect x="75.04" y="129.48" width="9.04" height="7.89" fill="#7ccc5c"/><rect x="83.38" y="129.48" width="9.04" height="7.89" fill="#35c79b"/><rect x="91.71" y="129.48" width="9.04" height="7.89" fill="#21a3e3"/><rect x="100.05" y="129.48" width="9.04" height="7.89" fill="#0bbcbe"/><rect x="108.39" y="129.48" width="9.04" height="7.89" fill="#21c1af"/><rect x="116.73" y="129.48" width="9.04" height="7.89" fill="#2995ec"/><rect x="125.06" y="129.48" width="8.34" height="7.89" fill="#13b0d8"/><rect x="16.68" y="136.67" width="9.04" height="7.89" fill="#259ae8"/><rect x="25.01" y="136.67" width="9.04" height="7.89" fill="#1aabdd"/><rect x="33.35" y="136.67" width="9.04" height="7.89" fill="#22a0e5"/><rect x="41.69" y="136.67" width="9.04" height="7.89" fill="#0bb4d1"/><rect x="50.03" y="136.67" width="9.04" height="7.89" fill="#21c1af"/><rect x="58.36" y="136.67" width="9.04" height="7.89" fill="#35c79b"/><rect x="66.70" y="136.67" width="9.04" height="7.89" fill="#2cc4a6"/><rect x="75.04" y="136.67" width="9.04" height="7.89" fill="#2cc4a6"/><rect x="83.38" y="136.67" width="9.04" height="7.89" fill="#2cc4a6"/><rect x="91.71" y="136.67" width="9.04" height="7.89" fill="#a1c841"/><rect x="100.05" y="136.67" width="9.04" height="7.89" fill="#2e85f8"/><rect x="108.39" y="136.67" width="9.04" height="7.89" fill="#1ca9df"/><rect x="116.73" y="136.67" width="9.04" height="7.89" fill="#259ae8"/><rect x="125.06" y="136.67" width="8.34" height="7.89" fill="#1ca9df"/><rect x="16.68" y="143.87" width="9.04" height="7.89" fill="#249de7"/><rect x="25.01" y="143.87" width="9.04" height="7.89" fill="#17aeda"/><rect x="33.35" y="143.87" width="9.04" height="7.89" fill="#22a0e5"/><rect x="41.69" y="143.87" width="9.04" height="7.89" fill="#19c0b4"/><rect x="50.03" y="143.87" width="9.04" height="7.89" fill="#2cc4a6"/><rect x="58.36" y="143.87" width="9.04" height="7.89" fill="#2cc4a6"/><rect x="66.70" y="143.87" width="9.04" height="7.89" fill="#35c79b"/><rect x="75.04" y="143.87" width="9.04" height="7.89" fill="#13b0d8"/><rect x="83.38" y="143.87" width="9.04" height="7.89" fill="#259ae8"/><rect x="91.71" y="143.87" width="9.04" height="7.89" fill="#35c79b"/><rect x="100.05" y="143.87" width="9.04" height="7.89" fill="#35c79b"/><rect x="108.39" y="143.87" width="9.04" height="7.89" fill="#0bbcbe"/><rect x="116.73" y="143.87" width="9.04" height="7.89" fill="#259ae8"/><rect x="125.06" y="143.87" width="8.34" height="7.89" fill="#21a3e3"/><rect x="16.68" y="151.06" width="9.04" height="7.89" fill="#259ae8"/><rect x="25.01" y="151.06" width="9.04" height="7.89" fill="#1aabdd"/><rect x="33.35" y="151.06" width="9.04" height="7.89" fill="#1aabdd"/><rect x="41.69" y="151.06" width="9.04" height="7.89" fill="#2b92ee"/><rect x="50.03" y="151.06" width="9.04" height="7.89" fill="#259ae8"/><rect x="58.36" y="151.06" width="9.04" height="7.89" fill="#13b0d8"/><rect x="66.70" y="151.06" width="9.04" height="7.89" fill="#21c1af"/><rect x="75.04" y="151.06" width="9.04" height="7.89" fill="#21c1af"/><rect x="83.38" y="151.06" width="9.04" height="7.89" fill="#2cc4a6"/><rect x="91.71" y="151.06" width="9.04" height="7.89" fill="#21c1af"/><rect x="100.05" y="151.06" width="9.04" height="7.89" fill="#1ca9df"/><rect x="108.39" y="151.06" width="9.04" height="7.89" fill="#0bb4d1"/><rect x="116.73" y="151.06" width="9.04" height="7.89" fill="#2e85f8"/><rect x="125.06" y="151.06" width="8.34" height="7.89" fill="#21a3e3"/><rect x="16.68" y="158.25" width="9.04" height="7.89" fill="#22a0e5"/><rect x="25.01" y="158.25" width="9.04" height="7.89" fill="#17aeda"/><rect x="33.35" y="158.25" width="9.04" height="7.89" fill="#17aeda"/><rect x="41.69" y="158.25" width="9.04" height="7.89" fill="#1ca9df"/><rect x="50.03" y="158.25" width="9.04" height="7.89" fill="#0bb4d1"/><rect x="58.36" y="158.25" width="9.04" height="7.89" fill="#1ca9df"/><rect x="66.70" y="158.25" width="9.04" height="7.89" fill="#0bb4d1"/><rect x="75.04" y="158.25" width="9.04" height="7.89" fill="#1ca9df"/><rect x="83.38" y="158.25" width="9.04" height="7.89" fill="#474aed"/><rect x="91.71" y="158.25" width="9.04" height="7.89" fill="#86cb55"/><rect x="100.05" y="158.25" width="9.04" height="7.89" fill="#0bb4d1"/><rect x="108.39" y="158.25" width="9.04" height="7.89" fill="#21c1af"/><rect x="116.73" y="158.25" width="9.04" height="7.89" fill="#1ca9df"/><rect x="125.06" y="158.25" width="8.34" height="7.89" fill="#17aeda"/><rect x="0.00" y="165.45" width="9.04" height="7.89" fill="#21a3e3"/><rect x="8.34" y="165.45" width="9.04" height="7.89" fill="#2e85f8"/><rect x="16.68" y="165.45" width="9.04" height="7.89" fill="#0bb4d1"/><rect x="25.01" y="165.45" width="9.04" height="7.89" fill="#0bb4d1"/><rect x="33.35" y="165.45" width="9.04" height="7.89" fill="#0bb4d1"/><rect x="41.69" y="165.45" width="9.04" height="7.89" fill="#0bb4d1"/><rect x="50.03" y="165.45" width="9.04" height="7.89" fill="#21c1af"/><rect x="58.36" y="165.45" width="9.04" height="7.89" fill="#0bb4d1"/><rect x="66.70" y="165.45" width="9.04" height="7.89" fill="#1ca9df"/><rect x="75.04" y="165.45" width="9.04" height="7.89" fill="#13b0d8"/><rect x="83.38" y="165.45" width="9.04" height="7.89" fill="#21c1af"/><rect x="91.71" y="165.45" width="9.04" height="7.89" fill="#2cc4a6"/><rect x="100.05" y="165.45" width="9.04" height="7.89" fill="#0bb4d1"/><rect x="108.39" y="165.45" width="9.04" height="7.89" fill="#0bb4d1"/><rect x="116.73" y="165.45" width="9.04" height="7.89" fill="#1ca9df"/><rect x="125.06" y="165.45" width="8.34" height="7.89" fill="#4560fb"/><rect x="0.00" y="172.64" width="9.04" height="7.89" fill="#4755f5"/><rect x="8.34" y="172.64" width="9.04" height="7.89" fill="#21a3e3"/><rect x="16.68" y="172.64" width="9.04" height="7.89" fill="#000"/><rect x="25.01" y="172.64" width="9.04" height="7.89" fill="#000"/><rect x="33.35" y="172.64" width="9.04" height="7.89" fill="#2d8cf3"/><rect x="41.69" y="172.64" width="9.04" height="7.89" fill="#45ca89"/><rect x="50.03" y="172.64" width="9.04" height="7.89" fill="#45ca89"/><rect x="58.36" y="172.64" width="9.04" height="7.89" fill="#0bb4d1"/><rect x="66.70" y="172.64" width="9.04" height="7.89" fill="#2cc4a6"/><rect x="75.04" y="172.64" width="9.04" height="7.89" fill="#0bb4d1"/><rect x="83.38" y="172.64" width="9.04" height="7.89" fill="#0bb4d1"/><rect x="91.71" y="172.64" width="9.04" height="7.89" fill="#86cb55"/><rect x="100.05" y="172.64" width="9.04" height="7.89" fill="#000"/><rect x="108.39" y="172.64" width="9.04" height="7.89" fill="#000"/><rect x="116.73" y="172.64" width="9.04" height="7.89" fill="#2d8cf3"/><rect x="125.06" y="172.64" width="8.34" height="7.89" fill="#2995ec"/><rect x="0.00" y="179.83" width="9.04" height="7.89" fill="#21a3e3"/><rect x="8.34" y="179.83" width="9.04" height="7.89" fill="#2e85f8"/><rect x="16.68" y="179.83" width="9.04" height="7.89" fill="#000"/><rect x="25.01" y="179.83" width="9.04" height="7.89" fill="#000"/><rect x="33.35" y="179.83" width="9.04" height="7.89" fill="#21a3e3"/><rect x="41.69" y="179.83" width="9.04" height="7.89" fill="#2cc4a6"/><rect x="50.03" y="179.83" width="9.04" height="7.89" fill="#2cc4a6"/><rect x="58.36" y="179.83" width="9.04" height="7.89" fill="#19c0b4"/><rect x="66.70" y="179.83" width="9.04" height="7.89" fill="#1ca9df"/><rect x="75.04" y="179.83" width="9.04" height="7.89" fill="#2cc4a6"/><rect x="83.38" y="179.83" width="9.04" height="7.89" fill="#2cc4a6"/><rect x="91.71" y="179.83" width="9.04" height="7.89" fill="#dfbd2c"/><rect x="100.05" y="179.83" width="9.04" height="7.19" fill="#000"/><rect x="108.39" y="179.83" width="9.04" height="7.19" fill="#000"/><rect x="116.73" y="179.83" width="9.04" height="7.19" fill="#0bb4d1"/><rect x="125.06" y="179.83" width="8.34" height="7.19" fill="#2995ec"/><rect x="0.00" y="187.03" width="9.04" height="7.89" fill="#21a3e3"/><rect x="8.34" y="187.03" width="9.04" height="7.89" fill="#2d8cf3"/><rect x="16.68" y="187.03" width="9.04" height="7.89" fill="#2cc4a6"/><rect x="25.01" y="187.03" width="9.04" height="7.89" fill="#13b0d8"/><rect x="33.35" y="187.03" width="9.04" height="7.89" fill="#21a3e3"/><rect x="41.69" y="187.03" width="9.04" height="7.89" fill="#0bb4d1"/><rect x="50.03" y="187.03" width="9.04" height="7.89" fill="#0bb4d1"/><rect x="58.36" y="187.03" width="9.04" height="7.89" fill="#0bb4d1"/><rect x="66.70" y="187.03" width="9.04" height="7.89" fill="#2cc4a6"/><rect x="75.04" y="187.03" width="9.04" height="7.89" fill="#1ca9df"/><rect x="83.38" y="187.03" width="9.04" height="7.89" fill="#03b9c5"/><rect x="91.71" y="187.03" width="8.34" height="7.89" fill="#03b8c9"/><rect x="0.00" y="194.22" width="9.04" height="7.89" fill="#2d8cf3"/><rect x="8.34" y="194.22" width="9.04" height="7.89" fill="#2d8cf3"/><rect x="16.68" y="194.22" width="9.04" height="7.89" fill="#463cdc"/><rect x="25.01" y="194.22" width="9.04" height="7.89" fill="#21a3e3"/><rect x="33.35" y="194.22" width="9.04" height="7.89" fill="#21a3e3"/><rect x="41.69" y="194.22" width="9.04" height="7.89" fill="#21a3e3"/><rect x="50.03" y="194.22" width="9.04" height="7.89" fill="#1ca9df"/><rect x="58.36" y="194.22" width="9.04" height="7.89" fill="#1ca9df"/><rect x="66.70" y="194.22" width="9.04" height="7.89" fill="#13b0d8"/><rect x="75.04" y="194.22" width="9.04" height="7.89" fill="#1ca9df"/><rect x="83.38" y="194.22" width="9.04" height="7.89" fill="#0bb4d1"/><rect x="91.71" y="194.22" width="8.34" height="7.89" fill="#0bb4d1"/><rect x="0.00" y="201.41" width="9.04" height="7.89" fill="#13b0d8"/><rect x="8.34" y="201.41" width="9.04" height="7.89" fill="#2d8cf3"/><rect x="16.68" y="201.41" width="9.04" height="7.89" fill="#13b0d8"/><rect x="25.01" y="201.41" width="9.04" height="7.89" fill="#13b0d8"/><rect x="33.35" y="201.41" width="9.04" height="7.89" fill="#21a3e3"/><rect x="41.69" y="201.41" width="9.04" height="7.89" fill="#21a3e3"/><rect x="50.03" y="201.41" width="9.04" height="7.89" fill="#2995ec"/><rect x="58.36" y="201.41" width="9.04" height="7.89" fill="#22a0e5"/><rect x="66.70" y="201.41" width="9.04" height="7.89" fill="#2e85f8"/><rect x="75.04" y="201.41" width="9.04" height="7.89" fill="#13b0d8"/><rect x="83.38" y="201.41" width="9.04" height="7.89" fill="#21c1af"/><rect x="91.71" y="201.41" width="8.34" height="7.89" fill="#0bb4d1"/><rect x="0.00" y="208.61" width="9.04" height="7.19" fill="#21c1af"/><rect x="8.34" y="208.61" width="9.04" height="7.19" fill="#2d8cf3"/><rect x="16.68" y="208.61" width="9.04" height="7.19" fill="#21a3e3"/><rect x="25.01" y="208.61" width="9.04" height="7.19" fill="#21a3e3"/><rect x="33.35" y="208.61" width="9.04" height="7.19" fill="#2e85f8"/><rect x="41.69" y="208.61" width="9.04" height="7.19" fill="#1ca9df"/><rect x="50.03" y="208.61" width="9.04" height="7.19" fill="#0bb4d1"/><rect x="58.36" y="208.61" width="9.04" height="7.19" fill="#0bb4d1"/><rect x="66.70" y="208.61" width="9.04" height="7.19" fill="#0bb4d1"/><rect x="75.04" y="208.61" width="9.04" height="7.19" fill="#13b0d8"/><rect x="83.38" y="208.61" width="9.04" height="7.19" fill="#259ae8"/><rect x="91.71" y="208.61" width="8.34" height="7.19" fill="#0bb4d1"/></g>
<rect x="279.10" y="5.30" width="1" height="216.10" fill="#8c8c8c"/>
<rect x="279.10" y="219.90" width="133.70" height="1.4" fill="#3458b8" fill-opacity="0.85"/>
<rect x="321.29" y="34.07" width="16.68" height="0.8" fill="#32c69e"/>
<rect x="379.65" y="34.07" width="16.68" height="0.8" fill="#cac12a"/>
<rect x="412.10" y="192.33" width="0.8" height="27.77" fill="#5aa0f0"/>
<rect x="279.90" y="191.83" width="2" height="1" fill="#262626"/>
<rect x="279.90" y="155.86" width="2" height="1" fill="#262626"/>
<rect x="279.90" y="119.89" width="2" height="1" fill="#262626"/>
<rect x="279.90" y="83.93" width="2" height="1" fill="#262626"/>
<rect x="279.90" y="47.96" width="2" height="1" fill="#262626"/>
<rect x="279.90" y="11.99" width="2" height="1" fill="#262626"/>
<rect x="312.45" y="218.50" width="1" height="2" fill="#262626"/>
<rect x="354.14" y="218.50" width="1" height="2" fill="#262626"/>
<rect x="395.82" y="218.50" width="1" height="2" fill="#262626"/>
<defs><linearGradient id="gd" x1="0" y1="0" x2="0" y2="1"><stop offset="0.0000" stop-color="#f9fb0e"/><stop offset="0.0159" stop-color="#f5f31a"/><stop offset="0.0317" stop-color="#f3ec23"/><stop offset="0.0476" stop-color="#f4e725"/><stop offset="0.0635" stop-color="#f5e228"/><stop offset="0.0794" stop-color="#f8dc2a"/><stop offset="0.0952" stop-color="#fad62d"/><stop offset="0.1111" stop-color="#fcd030"/><stop offset="0.1270" stop-color="#fec934"/><stop offset="0.1429" stop-color="#fec239"/><stop offset="0.1587" stop-color="#fcbd3b"/><stop offset="0.1746" stop-color="#f5bb38"/><stop offset="0.1905" stop-color="#edba34"/><stop offset="0.2063" stop-color="#e2bc2d"/><stop offset="0.2222" stop-color="#d7be29"/><stop offset="0.2381" stop-color="#cbc12a"/><stop offset="0.2540" stop-color="#bfc32e"/><stop offset="0.2698" stop-color="#b2c535"/><stop offset="0.2857" stop-color="#a4c83e"/><stop offset="0.3016" stop-color="#96ca48"/><stop offset="0.3175" stop-color="#88cb53"/><stop offset="0.3333" stop-color="#79cc5e"/><stop offset="0.3492" stop-color="#6bcd69"/><stop offset="0.3651" stop-color="#5ecc74"/><stop offset="0.3810" stop-color="#52cc7e"/><stop offset="0.3968" stop-color="#47cb87"/><stop offset="0.4127" stop-color="#3dc991"/><stop offset="0.4286" stop-color="#35c79b"/><stop offset="0.4444" stop-color="#2ec5a3"/><stop offset="0.4603" stop-color="#28c3ab"/><stop offset="0.4762" stop-color="#1dc0b2"/><stop offset="0.4921" stop-color="#0fbeba"/><stop offset="0.5079" stop-color="#07bbc1"/><stop offset="0.5238" stop-color="#02b9c7"/><stop offset="0.5397" stop-color="#06b6cd"/><stop offset="0.5556" stop-color="#0db3d3"/><stop offset="0.5714" stop-color="#14b0d8"/><stop offset="0.5873" stop-color="#19acdc"/><stop offset="0.6032" stop-color="#1da8e0"/><stop offset="0.6190" stop-color="#21a4e3"/><stop offset="0.6349" stop-color="#239fe6"/><stop offset="0.6508" stop-color="#259ae9"/><stop offset="0.6667" stop-color="#2896ec"/><stop offset="0.6825" stop-color="#2b91ef"/><stop offset="0.6984" stop-color="#2d8cf3"/><stop offset="0.7143" stop-color="#2e87f7"/><stop offset="0.7302" stop-color="#3081fa"/><stop offset="0.7460" stop-color="#337cfc"/><stop offset="0.7619" stop-color="#3875fd"/><stop offset="0.7778" stop-color="#3e6ffe"/><stop offset="0.7937" stop-color="#4269fe"/><stop offset="0.8095" stop-color="#4563fd"/><stop offset="0.8254" stop-color="#465efa"/><stop offset="0.8413" stop-color="#4658f6"/><stop offset="0.8571" stop-color="#4752f3"/><stop offset="0.8730" stop-color="#484df0"/><stop offset="0.8889" stop-color="#4747e9"/><stop offset="0.9048" stop-color="#4642e3"/><stop offset="0.9206" stop-color="#463cdc"/><stop offset="0.9365" stop-color="#4537d5"/><stop offset="0.9524" stop-color="#4333ca"/><stop offset="0.9683" stop-color="#412fbf"/><stop offset="0.9841" stop-color="#402ab4"/><stop offset="1.0000" stop-color="#3e26a8"/></linearGradient></defs>
<rect x="419.40" y="5.10" width="13.20" height="215.90" fill="url(#gd)" stroke="#4d4d4d" stroke-width="0.9"/>
<rect x="430.20" y="17.40" width="2.4" height="1" fill="#262626"/>
<rect x="430.20" y="37.15" width="2.4" height="1" fill="#262626"/>
<rect x="430.20" y="56.90" width="2.4" height="1" fill="#262626"/>
<rect x="430.20" y="76.65" width="2.4" height="1" fill="#262626"/>
<rect x="430.20" y="96.40" width="2.4" height="1" fill="#262626"/>
<rect x="430.20" y="116.14" width="2.4" height="1" fill="#262626"/>
<rect x="430.20" y="135.89" width="2.4" height="1" fill="#262626"/>
<rect x="430.20" y="155.64" width="2.4" height="1" fill="#262626"/>
<rect x="430.20" y="175.39" width="2.4" height="1" fill="#262626"/>
<rect x="430.20" y="195.14" width="2.4" height="1" fill="#262626"/>
<rect x="430.20" y="214.89" width="2.4" height="1" fill="#262626"/>
<g transform="translate(155.40 286.80)"><rect x="0.00" y="0.00" width="8.34" height="7.89" fill="#17aeda"/><rect x="0.00" y="7.19" width="9.04" height="7.89" fill="#2d8cf3"/><rect x="8.34" y="7.19" width="8.34" height="7.89" fill="#2cc4a6"/><rect x="0.00" y="14.39" width="9.04" height="7.89" fill="#21a3e3"/><rect x="8.34" y="14.39" width="9.04" height="7.89" fill="#2d8cf3"/><rect x="16.68" y="14.39" width="8.34" height="7.89" fill="#4560fb"/><rect x="0.00" y="21.58" width="9.04" height="7.89" fill="#21a3e3"/><rect x="8.34" y="21.58" width="9.04" height="7.89" fill="#19c0b4"/><rect x="16.68" y="21.58" width="8.34" height="7.89" fill="#0bb4d1"/><rect x="125.06" y="21.58" width="8.34" height="7.89" fill="#3e26a8"/><rect x="0.00" y="28.77" width="9.04" height="7.19" fill="#4560fb"/><rect x="8.34" y="28.77" width="9.04" height="7.19" fill="#2995ec"/><rect x="16.68" y="28.77" width="9.04" height="7.89" fill="#0bb4d1"/><rect x="25.01" y="28.77" width="9.04" height="7.89" fill="#2995ec"/><rect x="33.35" y="28.77" width="8.34" height="7.89" fill="#3081fa"/><rect x="58.36" y="28.77" width="9.04" height="7.89" fill="#2d8cf3"/><rect x="66.70" y="28.77" width="9.04" height="7.89" fill="#0bb4d1"/><rect x="75.04" y="28.77" width="9.04" height="7.89" fill="#0bb4d1"/><rect x="83.38" y="28.77" width="9.04" height="7.89" fill="#249de7"/><rect x="91.71" y="28.77" width="8.34" height="7.89" fill="#0bb4d1"/><rect x="116.73" y="28.77" width="9.04" height="7.89" fill="#2995ec"/><rect x="125.06" y="28.77" width="8.34" height="7.89" fill="#3776fd"/><rect x="16.68" y="35.97" width="9.04" height="7.89" fill="#2cc4a6"/><rect x="25.01" y="35.97" width="9.04" height="7.89" fill="#21a3e3"/><rect x="33.35" y="35.97" width="8.34" height="7.89" fill="#2d8cf3"/><rect x="58.36" y="35.97" width="9.04" height="7.89" fill="#0bb4d1"/><rect x="66.70" y="35.97" width="9.04" height="7.89" fill="#0bb4d1"/><rect x="75.04" y="35.97" width="9.04" height="7.89" fill="#347afc"/><rect x="83.38" y="35.97" width="9.04" height="7.89" fill="#1ca9df"/><rect x="91.71" y="35.97" width="8.34" height="7.89" fill="#21a3e3"/><rect x="116.73" y="35.97" width="9.04" height="7.89" fill="#2d8cf3"/><rect x="125.06" y="35.97" width="8.34" height="7.89" fill="#3081fa"/><rect x="16.68" y="43.16" width="9.04" height="7.89" fill="#000"/><rect x="25.01" y="43.16" width="9.04" height="7.89" fill="#000"/><rect x="33.35" y="43.16" width="9.04" height="7.89" fill="#03b9c5"/><rect x="41.69" y="43.16" width="9.04" height="7.89" fill="#0bbcbe"/><rect x="50.03" y="43.16" width="9.04" height="7.89" fill="#0bb4d1"/><rect x="58.36" y="43.16" width="9.04" height="7.89" fill="#03b8c9"/><rect x="66.70" y="43.16" width="9.04" height="7.89" fill="#0bbcbe"/><rect x="75.04" y="43.16" width="9.04" height="7.89" fill="#2e85f8"/><rect x="83.38" y="43.16" width="9.04" height="7.89" fill="#17aeda"/><rect x="91.71" y="43.16" width="9.04" height="7.89" fill="#0bb4d1"/><rect x="100.05" y="43.16" width="9.04" height="7.89" fill="#000"/><rect x="108.39" y="43.16" width="9.04" height="7.89" fill="#000"/><rect x="116.73" y="43.16" width="9.04" height="7.89" fill="#13b0d8"/><rect x="125.06" y="43.16" width="8.34" height="7.89" fill="#21a3e3"/><rect x="16.68" y="50.35" width="9.04" height="7.89" fill="#000"/><rect x="25.01" y="50.35" width="9.04" height="7.89" fill="#000"/><rect x="33.35" y="50.35" width="9.04" height="7.89" fill="#1ca9df"/><rect x="41.69" y="50.35" width="9.04" height="7.89" fill="#1ca9df"/><rect x="50.03" y="50.35" width="9.04" height="7.89" fill="#2cc4a6"/><rect x="58.36" y="50.35" width="9.04" height="7.89" fill="#1ca9df"/><rect x="66.70" y="50.35" width="9.04" height="7.89" fill="#0bb4d1"/><rect x="75.04" y="50.35" width="9.04" height="7.89" fill="#0bb4d1"/><rect x="83.38" y="50.35" width="9.04" height="7.89" fill="#17aeda"/><rect x="91.71" y="50.35" width="9.04" height="7.89" fill="#4560fb"/><rect x="100.05" y="50.35" width="9.04" height="7.89" fill="#000"/><rect x="108.39" y="50.35" width="9.04" height="7.89" fill="#000"/><rect x="116.73" y="50.35" width="9.04" height="7.19" fill="#13b0d8"/><rect x="125.06" y="50.35" width="8.34" height="7.19" fill="#21a3e3"/><rect x="16.68" y="57.55" width="9.04" height="7.89" fill="#0bb4d1"/><rect x="25.01" y="57.55" width="9.04" height="7.89" fill="#1ca9df"/><rect x="33.35" y="57.55" width="9.04" height="7.89" fill="#2d8cf3"/><rect x="41.69" y="57.55" width="9.04" height="7.89" fill="#0bbcbe"/><rect x="50.03" y="57.55" width="9.04" height="7.89" fill="#2cc4a6"/><rect x="58.36" y="57.55" width="9.04" height="7.89" fill="#03b9c5"/><rect x="66.70" y="57.55" width="9.04" height="7.89" fill="#3ac895"/><rect x="75.04" y="57.55" width="9.04" height="7.89" fill="#2cc4a6"/><rect x="83.38" y="57.55" width="9.04" height="7.89" fill="#2cc4a6"/><rect x="91.71" y="57.55" width="9.04" height="7.89" fill="#0bb4d1"/><rect x="100.05" y="57.55" width="9.04" height="7.89" fill="#2995ec"/><rect x="108.39" y="57.55" width="8.34" height="7.89" fill="#259ae8"/><rect x="16.68" y="64.74" width="9.04" height="7.89" fill="#35c79b"/><rect x="25.01" y="64.74" width="9.04" height="7.89" fill="#21a3e3"/><rect x="33.35" y="64.74" width="9.04" height="7.89" fill="#0bb4d1"/><rect x="41.69" y="64.74" width="9.04" height="7.89" fill="#21c1af"/><rect x="50.03" y="64.74" width="9.04" height="7.89" fill="#52cc7e"/><rect x="58.36" y="64.74" width="9.04" height="7.89" fill="#0bbcbe"/><rect x="66.70" y="64.74" width="9.04" height="7.89" fill="#0bb4d1"/><rect x="75.04" y="64.74" width="9.04" height="7.89" fill="#21c1af"/><rect x="83.38" y="64.74" width="9.04" height="7.89" fill="#45ca89"/><rect x="91.71" y="64.74" width="9.04" height="7.89" fill="#0bb4d1"/><rect x="100.05" y="64.74" width="9.04" height="7.89" fill="#13b0d8"/><rect x="108.39" y="64.74" width="8.34" height="7.89" fill="#0bb4d1"/><rect x="16.68" y="71.93" width="9.04" height="7.89" fill="#35c79b"/><rect x="25.01" y="71.93" width="9.04" height="7.89" fill="#1ca9df"/><rect x="33.35" y="71.93" width="9.04" height="7.89" fill="#21c1af"/><rect x="41.69" y="71.93" width="9.04" height="7.89" fill="#3ac895"/><rect x="50.03" y="71.93" width="9.04" height="7.89" fill="#86cb55"/><rect x="58.36" y="71.93" width="9.04" height="7.89" fill="#35c79b"/><rect x="66.70" y="71.93" width="9.04" height="7.89" fill="#45ca89"/><rect x="75.04" y="71.93" width="9.04" height="7.89" fill="#2cc4a6"/><rect x="83.38" y="71.93" width="9.04" height="7.89" fill="#2cc4a6"/><rect x="91.71" y="71.93" width="9.04" height="7.89" fill="#2cc4a6"/><rect x="100.05" y="71.93" width="9.04" height="7.89" fill="#0bbcbe"/><rect x="108.39" y="71.93" width="8.34" height="7.19" fill="#0bb4d1"/><rect x="0.00" y="79.13" width="9.04" height="7.89" fill="#2d8cf3"/><rect x="8.34" y="79.13" width="9.04" height="7.89" fill="#0bb4d1"/><rect x="16.68" y="79.13" width="9.04" height="7.89" fill="#45ca89"/><rect x="25.01" y="79.13" width="9.04" height="7.89" fill="#0bbcbe"/><rect x="33.35" y="79.13" width="9.04" height="7.89" fill="#2cc4a6"/><rect x="41.69" y="79.13" width="9.04" height="7.89" fill="#3ac895"/><rect x="50.03" y="79.13" width="9.04" height="7.89" fill="#73cc63"/><rect x="58.36" y="79.13" width="9.04" height="7.89" fill="#2cc4a6"/><rect x="66.70" y="79.13" width="9.04" height="7.89" fill="#03b9c5"/><rect x="75.04" y="79.13" width="9.04" height="7.89" fill="#0bb4d1"/><rect x="83.38" y="79.13" width="9.04" height="7.89" fill="#45ca89"/><rect x="91.71" y="79.13" width="9.04" height="7.89" fill="#21c1af"/><rect x="100.05" y="79.13" width="8.34" height="7.89" fill="#1ca9df"/><rect x="0.00" y="86.32" width="9.04" height="7.89" fill="#17aeda"/><rect x="8.34" y="86.32" width="9.04" height="7.89" fill="#0bbcbe"/><rect x="16.68" y="86.32" width="9.04" height="7.89" fill="#b2c535"/><rect x="25.01" y="86.32" width="9.04" height="7.89" fill="#45ca89"/><rect x="33.35" y="86.32" width="9.04" height="7.89" fill="#45ca89"/><rect x="41.69" y="86.32" width="9.04" height="7.89" fill="#0bbcbe"/><rect x="50.03" y="86.32" width="9.04" height="7.89" fill="#73cc63"/><rect x="58.36" y="86.32" width="9.04" height="7.89" fill="#86cb55"/><rect x="66.70" y="86.32" width="9.04" height="7.89" fill="#a9c73b"/><rect x="75.04" y="86.32" width="9.04" height="7.89" fill="#52cc7e"/><rect x="83.38" y="86.32" width="9.04" height="7.89" fill="#0bb4d1"/><rect x="91.71" y="86.32" width="9.04" height="7.89" fill="#35c79b"/><rect x="100.05" y="86.32" width="8.34" height="7.89" fill="#2d8cf3"/><rect x="0.00" y="93.51" width="9.04" height="7.89" fill="#13b0d8"/><rect x="8.34" y="93.51" width="9.04" height="7.89" fill="#45ca89"/><rect x="16.68" y="93.51" width="9.04" height="7.89" fill="#45ca89"/><rect x="25.01" y="93.51" width="9.04" height="7.89" fill="#0bbcbe"/><rect x="33.35" y="93.51" width="9.04" height="7.89" fill="#0bbcbe"/><rect x="41.69" y="93.51" width="9.04" height="7.89" fill="#0bbcbe"/><rect x="50.03" y="93.51" width="9.04" height="7.89" fill="#0bb4d1"/><rect x="58.36" y="93.51" width="9.04" height="7.89" fill="#0bbcbe"/><rect x="66.70" y="93.51" width="9.04" height="7.89" fill="#7ccc5c"/><rect x="75.04" y="93.51" width="9.04" height="7.89" fill="#52cc7e"/><rect x="83.38" y="93.51" width="9.04" height="7.89" fill="#0bbcbe"/><rect x="91.71" y="93.51" width="9.04" height="7.89" fill="#0bbcbe"/><rect x="100.05" y="93.51" width="8.34" height="7.89" fill="#0bb4d1"/><rect x="0.00" y="100.71" width="9.04" height="7.89" fill="#21c1af"/><rect x="8.34" y="100.71" width="9.04" height="7.89" fill="#21c1af"/><rect x="16.68" y="100.71" width="9.04" height="7.89" fill="#45ca89"/><rect x="25.01" y="100.71" width="9.04" height="7.89" fill="#21a3e3"/><rect x="33.35" y="100.71" width="9.04" height="7.89" fill="#21a3e3"/><rect x="41.69" y="100.71" width="9.04" height="7.89" fill="#45ca89"/><rect x="50.03" y="100.71" width="9.04" height="7.89" fill="#f8dc2a"/><rect x="58.36" y="100.71" width="9.04" height="7.89" fill="#fbbd3b"/><rect x="66.70" y="100.71" width="9.04" height="7.89" fill="#fbbd3b"/><rect x="75.04" y="100.71" width="9.04" height="7.89" fill="#52cc7e"/><rect x="83.38" y="100.71" width="9.04" height="7.89" fill="#21c1af"/><rect x="91.71" y="100.71" width="9.04" height="7.89" fill="#73cc63"/><rect x="100.05" y="100.71" width="9.04" height="7.89" fill="#0bb4d1"/><rect x="108.39" y="100.71" width="9.04" height="7.89" fill="#2cc4a6"/><rect x="116.73" y="100.71" width="9.04" height="7.89" fill="#0bb4d1"/><rect x="125.06" y="100.71" width="8.34" height="7.89" fill="#1ca9df"/><rect x="0.00" y="107.90" width="9.04" height="7.89" fill="#21c1af"/><rect x="8.34" y="107.90" width="9.04" height="7.89" fill="#21c1af"/><rect x="16.68" y="107.90" width="9.04" height="7.89" fill="#45ca89"/><rect x="25.01" y="107.90" width="9.04" height="7.89" fill="#21a3e3"/><rect x="33.35" y="107.90" width="9.04" height="7.89" fill="#21a3e3"/><rect x="41.69" y="107.90" width="9.04" height="7.89" fill="#cac12a"/><rect x="50.03" y="107.90" width="9.04" height="7.89" fill="#f5e327"/><rect x="58.36" y="107.90" width="9.04" height="7.89" fill="#000"/><rect x="66.70" y="107.90" width="9.04" height="7.89" fill="#000"/><rect x="75.04" y="107.90" width="9.04" height="7.89" fill="#edba34"/><rect x="83.38" y="107.90" width="9.04" height="7.89" fill="#45ca89"/><rect x="91.71" y="107.90" width="9.04" height="7.89" fill="#73cc63"/><rect x="100.05" y="107.90" width="9.04" height="7.89" fill="#0bb4d1"/><rect x="108.39" y="107.90" width="9.04" height="7.89" fill="#35c79b"/><rect x="116.73" y="107.90" width="9.04" height="7.89" fill="#2cc4a6"/><rect x="125.06" y="107.90" width="8.34" height="7.89" fill="#4367fd"/><rect x="0.00" y="115.09" width="9.04" height="7.19" fill="#0bb4d1"/><rect x="8.34" y="115.09" width="9.04" height="7.19" fill="#35c79b"/><rect x="16.68" y="115.09" width="9.04" height="7.89" fill="#45ca89"/><rect x="25.01" y="115.09" width="9.04" height="7.89" fill="#21a3e3"/><rect x="33.35" y="115.09" width="9.04" height="7.89" fill="#21a3e3"/><rect x="41.69" y="115.09" width="9.04" height="7.89" fill="#c2c22d"/><rect x="50.03" y="115.09" width="9.04" height="7.89" fill="#86cb55"/><rect x="58.36" y="115.09" width="9.04" height="7.89" fill="#000"/><rect x="66.70" y="115.09" width="9.04" height="7.89" fill="#000"/><rect x="75.04" y="115.09" width="9.04" height="7.89" fill="#f2bb37"/><rect x="83.38" y="115.09" width="9.04" height="7.89" fill="#2cc4a6"/><rect x="91.71" y="115.09" width="9.04" height="7.89" fill="#a1c841"/><rect x="100.05" y="115.09" width="9.04" height="7.89" fill="#0bb4d1"/><rect x="108.39" y="115.09" width="9.04" height="7.89" fill="#0bb4d1"/><rect x="116.73" y="115.09" width="9.04" height="7.89" fill="#45ca89"/><rect x="125.06" y="115.09" width="8.34" height="7.89" fill="#21a3e3"/><rect x="16.68" y="122.29" width="9.04" height="7.89" fill="#45ca89"/><rect x="25.01" y="122.29" width="9.04" height="7.89" fill="#21a3e3"/><rect x="33.35" y="122.29" width="9.04" height="7.89" fill="#21a3e3"/><rect x="41.69" y="122.29" width="9.04" height="7.89" fill="#d1bf29"/><rect x="50.03" y="122.29" width="9.04" height="7.89" fill="#fbbd3b"/><rect x="58.36" y="122.29" width="9.04" height="7.89" fill="#52cc7e"/><rect x="66.70" y="122.29" width="9.04" height="7.89" fill="#98c947"/><rect x="75.04" y="122.29" width="9.04" height="7.89" fill="#35c79b"/><rect x="83.38" y="122.29" width="9.04" height="7.89" fill="#21c1af"/><rect x="91.71" y="122.29" width="9.04" height="7.89" fill="#21c1af"/><rect x="100.05" y="122.29" width="9.04" height="7.89" fill="#1ca9df"/><rect x="108.39" y="122.29" width="9.04" height="7.89" fill="#1ca9df"/><rect x="116.73" y="122.29" width="9.04" height="7.89" fill="#73cc63"/><rect x="125.06" y="122.29" width="8.34" height="7.89" fill="#1ca9df"/><rect x="16.68" y="129.48" width="9.04" height="7.89" fill="#45ca89"/><rect x="25.01" y="129.48" width="9.04" height="7.89" fill="#0bb4d1"/><rect x="33.35" y="129.48" width="9.04" height="7.89" fill="#0bbcbe"/><rect x="41.69" y="129.48" width="9.04" height="7.89" fill="#d1bf29"/><rect x="50.03" y="129.48" width="9.04" height="7.89" fill="#fbbd3b"/><rect x="58.36" y="129.48" width="9.04" height="7.89" fill="#f2bb37"/><rect x="66.70" y="129.48" width="9.04" height="7.89" fill="#2cc4a6"/><rect x="75.04" y="129.48" width="9.04" height="7.89" fill="#0bbcbe"/><rect x="83.38" y="129.48" width="9.04" height="7.89" fill="#0bbcbe"/><rect x="91.71" y="129.48" width="9.04" height="7.89" fill="#35c79b"/><rect x="100.05" y="129.48" width="9.04" height="7.89" fill="#35c79b"/><rect x="108.39" y="129.48" width="9.04" height="7.89" fill="#0bb4d1"/><rect x="116.73" y="129.48" width="9.04" height="7.89" fill="#21c1af"/><rect x="125.06" y="129.48" width="8.34" height="7.89" fill="#0bb4d1"/><rect x="16.68" y="136.67" width="9.04" height="7.89" fill="#45ca89"/><rect x="25.01" y="136.67" width="9.04" height="7.89" fill="#21c1af"/><rect x="33.35" y="136.67" width="9.04" height="7.89" fill="#21c1af"/><rect x="41.69" y="136.67" width="9.04" height="7.89" fill="#d1bf29"/><rect x="50.03" y="136.67" width="9.04" height="7.89" fill="#fbbd3b"/><rect x="58.36" y="136.67" width="9.04" height="7.89" fill="#f7bc39"/><rect x="66.70" y="136.67" width="9.04" height="7.89" fill="#86cb55"/><rect x="75.04" y="136.67" width="9.04" height="7.89" fill="#45ca89"/><rect x="83.38" y="136.67" width="9.04" height="7.89" fill="#03b9c5"/><rect x="91.71" y="136.67" width="9.04" height="7.89" fill="#35c79b"/><rect x="100.05" y="136.67" width="9.04" height="7.89" fill="#35c79b"/><rect x="108.39" y="136.67" width="9.04" height="7.89" fill="#2d8cf3"/><rect x="116.73" y="136.67" width="9.04" height="7.89" fill="#0bb4d1"/><rect x="125.06" y="136.67" width="8.34" height="7.89" fill="#03b9c5"/><rect x="16.68" y="143.87" width="9.04" height="7.89" fill="#52cc7e"/><rect x="25.01" y="143.87" width="9.04" height="7.89" fill="#19c0b4"/><rect x="33.35" y="143.87" width="9.04" height="7.89" fill="#21c1af"/><rect x="41.69" y="143.87" width="9.04" height="7.89" fill="#52cc7e"/><rect x="50.03" y="143.87" width="9.04" height="7.89" fill="#86cb55"/><rect x="58.36" y="143.87" width="9.04" height="7.89" fill="#52cc7e"/><rect x="66.70" y="143.87" width="9.04" height="7.89" fill="#0bbcbe"/><rect x="75.04" y="143.87" width="9.04" height="7.89" fill="#2cc4a6"/><rect x="83.38" y="143.87" width="9.04" height="7.89" fill="#03b8c9"/><rect x="91.71" y="143.87" width="9.04" height="7.89" fill="#2d8cf3"/><rect x="100.05" y="143.87" width="9.04" height="7.89" fill="#0bb4d1"/><rect x="108.39" y="143.87" width="9.04" height="7.89" fill="#0bb4d1"/><rect x="116.73" y="143.87" width="9.04" height="7.89" fill="#21a3e3"/><rect x="125.06" y="143.87" width="8.34" height="7.89" fill="#21a3e3"/><rect x="16.68" y="151.06" width="9.04" height="7.89" fill="#52cc7e"/><rect x="25.01" y="151.06" width="9.04" height="7.89" fill="#13b0d8"/><rect x="33.35" y="151.06" width="9.04" height="7.89" fill="#13b0d8"/><rect x="41.69" y="151.06" width="9.04" height="7.89" fill="#2cc4a6"/><rect x="50.03" y="151.06" width="9.04" height="7.89" fill="#52cc7e"/><rect x="58.36" y="151.06" width="9.04" height="7.89" fill="#52cc7e"/><rect x="66.70" y="151.06" width="9.04" height="7.89" fill="#1ca9df"/><rect x="75.04" y="151.06" width="9.04" height="7.89" fill="#1ca9df"/><rect x="83.38" y="151.06" width="9.04" height="7.89" fill="#1ca9df"/><rect x="91.71" y="151.06" width="9.04" height="7.89" fill="#2cc4a6"/><rect x="100.05" y="151.06" width="9.04" height="7.89" fill="#2cc4a6"/><rect x="108.39" y="151.06" width="9.04" height="7.89" fill="#1ca9df"/><rect x="116.73" y="151.06" width="9.04" height="7.89" fill="#1ca9df"/><rect x="125.06" y="151.06" width="8.34" height="7.89" fill="#1ca9df"/><rect x="16.68" y="158.25" width="9.04" height="7.89" fill="#0bb4d1"/><rect x="25.01" y="158.25" width="9.04" height="7.89" fill="#19c0b4"/><rect x="33.35" y="158.25" width="9.04" height="7.89" fill="#21c1af"/><rect x="41.69" y="158.25" width="9.04" height="7.89" fill="#21c1af"/><rect x="50.03" y="158.25" width="9.04" height="7.89" fill="#35c79b"/><rect x="58.36" y="158.25" width="9.04" height="7.89" fill="#35c79b"/><rect x="66.70" y="158.25" width="9.04" height="7.89" fill="#1ca9df"/><rect x="75.04" y="158.25" width="9.04" height="7.89" fill="#1ca9df"/><rect x="83.38" y="158.25" width="9.04" height="7.89" fill="#1ca9df"/><rect x="91.71" y="158.25" width="9.04" height="7.89" fill="#13b0d8"/><rect x="100.05" y="158.25" width="9.04" height="7.89" fill="#0bb4d1"/><rect x="108.39" y="158.25" width="9.04" height="7.89" fill="#1ca9df"/><rect x="116.73" y="158.25" width="9.04" height="7.89" fill="#1ca9df"/><rect x="125.06" y="158.25" width="8.34" height="7.89" fill="#1ca9df"/><rect x="0.00" y="165.45" width="9.04" height="7.89" fill="#4367fd"/><rect x="8.34" y="165.45" width="9.04" height="7.89" fill="#21a3e3"/><rect x="16.68" y="165.45" width="9.04" height="7.89" fill="#2cc4a6"/><rect x="25.01" y="165.45" width="9.04" height="7.89" fill="#2cc4a6"/><rect x="33.35" y="165.45" width="9.04" height="7.89" fill="#0bbcbe"/><rect x="41.69" y="165.45" width="9.04" height="7.89" fill="#0bb4d1"/><rect x="50.03" y="165.45" width="9.04" height="7.89" fill="#0bb4d1"/><rect x="58.36" y="165.45" width="9.04" height="7.89" fill="#0bb4d1"/><rect x="66.70" y="165.45" width="9.04" height="7.89" fill="#0bb4d1"/><rect x="75.04" y="165.45" width="9.04" height="7.89" fill="#0bb4d1"/><rect x="83.38" y="165.45" width="9.04" height="7.89" fill="#2b92ee"/><rect x="91.71" y="165.45" width="9.04" height="7.89" fill="#463cdc"/><rect x="100.05" y="165.45" width="9.04" height="7.89" fill="#1ca9df"/><rect x="108.39" y="165.45" width="9.04" height="7.89" fill="#0bbcbe"/><rect x="116.73" y="165.45" width="9.04" height="7.89" fill="#17aeda"/><rect x="125.06" y="165.45" width="8.34" height="7.89" fill="#4755f5"/><rect x="0.00" y="172.64" width="9.04" height="7.89" fill="#4367fd"/><rect x="8.34" y="172.64" width="9.04" height="7.89" fill="#21a3e3"/><rect x="16.68" y="172.64" width="9.04" height="7.89" fill="#000"/><rect x="25.01" y="172.64" width="9.04" height="7.89" fill="#000"/><rect x="33.35" y="172.64" width="9.04" height="7.89" fill="#2cc4a6"/><rect x="41.69" y="172.64" width="9.04" height="7.89" fill="#2cc4a6"/><rect x="50.03" y="172.64" width="9.04" height="7.89" fill="#0bb4d1"/><rect x="58.36" y="172.64" width="9.04" height="7.89" fill="#0bb4d1"/><rect x="66.70" y="172.64" width="9.04" height="7.89" fill="#2cc4a6"/><rect x="75.04" y="172.64" width="9.04" height="7.89" fill="#0bbcbe"/><rect x="83.38" y="172.64" width="9.04" height="7.89" fill="#4560fb"/><rect x="91.71" y="172.64" width="9.04" height="7.89" fill="#0bb4d1"/><rect x="100.05" y="172.64" width="9.04" height="7.89" fill="#000"/><rect x="108.39" y="172.64" width="9.04" height="7.89" fill="#000"/><rect x="116.73" y="172.64" width="9.04" height="7.89" fill="#1ca9df"/><rect x="125.06" y="172.64" width="8.34" height="7.89" fill="#21a3e3"/><rect x="0.00" y="179.83" width="9.04" height="7.89" fill="#1ca9df"/><rect x="8.34" y="179.83" width="9.04" height="7.89" fill="#0bb4d1"/><rect x="16.68" y="179.83" width="9.04" height="7.89" fill="#000"/><rect x="25.01" y="179.83" width="9.04" height="7.89" fill="#000"/><rect x="33.35" y="179.83" width="9.04" height="7.89" fill="#1ca9df"/><rect x="41.69" y="179.83" width="9.04" height="7.89" fill="#1ca9df"/><rect x="50.03" y="179.83" width="9.04" height="7.89" fill="#0bb4d1"/><rect x="58.36" y="179.83" width="9.04" height="7.89" fill="#0bb4d1"/><rect x="66.70" y="179.83" width="9.04" height="7.89" fill="#347afc"/><rect x="75.04" y="179.83" width="9.04" height="7.89" fill="#0bb4d1"/><rect x="83.38" y="179.83" width="9.04" height="7.89" fill="#2995ec"/><rect x="91.71" y="179.83" width="9.04" height="7.89" fill="#0bb4d1"/><rect x="100.05" y="179.83" width="9.04" height="7.19" fill="#000"/><rect x="108.39" y="179.83" width="9.04" height="7.19" fill="#000"/><rect x="116.73" y="179.83" width="9.04" height="7.19" fill="#347afc"/><rect x="125.06" y="179.83" width="8.34" height="7.19" fill="#21a3e3"/><rect x="0.00" y="187.03" width="9.04" height="7.89" fill="#1ca9df"/><rect x="8.34" y="187.03" width="9.04" height="7.89" fill="#1ca9df"/><rect x="16.68" y="187.03" width="9.04" height="7.89" fill="#0bb4d1"/><rect x="25.01" y="187.03" width="9.04" height="7.89" fill="#1ca9df"/><rect x="33.35" y="187.03" width="9.04" height="7.89" fill="#347afc"/><rect x="41.69" y="187.03" width="9.04" height="7.89" fill="#1ca9df"/><rect x="50.03" y="187.03" width="9.04" height="7.89" fill="#0bb4d1"/><rect x="58.36" y="187.03" width="9.04" height="7.89" fill="#0bb4d1"/><rect x="66.70" y="187.03" width="9.04" height="7.89" fill="#0bb4d1"/><rect x="75.04" y="187.03" width="9.04" height="7.89" fill="#21a3e3"/><rect x="83.38" y="187.03" width="9.04" height="7.89" fill="#4367fd"/><rect x="91.71" y="187.03" width="8.34" height="7.89" fill="#21a3e3"/><rect x="0.00" y="194.22" width="9.04" height="7.89" fill="#463cdc"/><rect x="8.34" y="194.22" width="9.04" height="7.89" fill="#1ca9df"/><rect x="16.68" y="194.22" width="9.04" height="7.89" fill="#0bb4d1"/><rect x="25.01" y="194.22" width="9.04" height="7.89" fill="#1ca9df"/><rect x="33.35" y="194.22" width="9.04" height="7.89" fill="#2e85f8"/><rect x="41.69" y="194.22" width="9.04" height="7.89" fill="#2e85f8"/><rect x="50.03" y="194.22" width="9.04" height="7.89" fill="#2e85f8"/><rect x="58.36" y="194.22" width="9.04" height="7.89" fill="#13b0d8"/><rect x="66.70" y="194.22" width="9.04" height="7.89" fill="#0bb4d1"/><rect x="75.04" y="194.22" width="9.04" height="7.89" fill="#2d8cf3"/><rect x="83.38" y="194.22" width="9.04" height="7.89" fill="#1ca9df"/><rect x="91.71" y="194.22" width="8.34" height="7.89" fill="#21a3e3"/><rect x="0.00" y="201.41" width="9.04" height="7.89" fill="#1ca9df"/><rect x="8.34" y="201.41" width="9.04" height="7.89" fill="#1ca9df"/><rect x="16.68" y="201.41" width="9.04" height="7.89" fill="#2cc4a6"/><rect x="25.01" y="201.41" width="9.04" height="7.89" fill="#2cc4a6"/><rect x="33.35" y="201.41" width="9.04" height="7.89" fill="#19c0b4"/><rect x="41.69" y="201.41" width="9.04" height="7.89" fill="#19c0b4"/><rect x="50.03" y="201.41" width="9.04" height="7.89" fill="#35c79b"/><rect x="58.36" y="201.41" width="9.04" height="7.89" fill="#2cc4a6"/><rect x="66.70" y="201.41" width="9.04" height="7.89" fill="#21c1af"/><rect x="75.04" y="201.41" width="9.04" height="7.89" fill="#0bb4d1"/><rect x="83.38" y="201.41" width="9.04" height="7.89" fill="#0bb4d1"/><rect x="91.71" y="201.41" width="8.34" height="7.89" fill="#0bb4d1"/><rect x="0.00" y="208.61" width="9.04" height="7.19" fill="#03b9c5"/><rect x="8.34" y="208.61" width="9.04" height="7.19" fill="#2995ec"/><rect x="16.68" y="208.61" width="9.04" height="7.19" fill="#21a3e3"/><rect x="25.01" y="208.61" width="9.04" height="7.19" fill="#0bb4d1"/><rect x="33.35" y="208.61" width="9.04" height="7.19" fill="#17aeda"/><rect x="41.69" y="208.61" width="9.04" height="7.19" fill="#1ca9df"/><rect x="50.03" y="208.61" width="9.04" height="7.19" fill="#0bb4d1"/><rect x="58.36" y="208.61" width="9.04" height="7.19" fill="#0bb4d1"/><rect x="66.70" y="208.61" width="9.04" height="7.19" fill="#0bb4d1"/><rect x="75.04" y="208.61" width="9.04" height="7.19" fill="#4560fb"/><rect x="83.38" y="208.61" width="9.04" height="7.19" fill="#0bb4d1"/><rect x="91.71" y="208.61" width="8.34" height="7.19" fill="#0bb4d1"/></g>
<rect x="154.90" y="286.80" width="1" height="216.10" fill="#8c8c8c"/>
<rect x="154.90" y="501.40" width="133.70" height="1.4" fill="#3458b8" fill-opacity="0.85"/>
<rect x="197.09" y="315.57" width="16.68" height="0.8" fill="#2e87f7"/>
<rect x="255.45" y="315.57" width="16.68" height="0.8" fill="#1fa6e1"/>
<rect x="287.90" y="473.83" width="0.8" height="27.77" fill="#5aa0f0"/>
<rect x="155.70" y="473.33" width="2" height="1" fill="#262626"/>
<rect x="155.70" y="437.36" width="2" height="1" fill="#262626"/>
<rect x="155.70" y="401.39" width="2" height="1" fill="#262626"/>
<rect x="155.70" y="365.43" width="2" height="1" fill="#262626"/>
<rect x="155.70" y="329.46" width="2" height="1" fill="#262626"/>
<rect x="155.70" y="293.49" width="2" height="1" fill="#262626"/>
<rect x="188.25" y="500.00" width="1" height="2" fill="#262626"/>
<rect x="229.94" y="500.00" width="1" height="2" fill="#262626"/>
<rect x="271.62" y="500.00" width="1" height="2" fill="#262626"/>
<defs><linearGradient id="ge" x1="0" y1="0" x2="0" y2="1"><stop offset="0.0000" stop-color="#f9fb0e"/><stop offset="0.0159" stop-color="#f5f31a"/><stop offset="0.0317" stop-color="#f3ec23"/><stop offset="0.0476" stop-color="#f4e725"/><stop offset="0.0635" stop-color="#f5e228"/><stop offset="0.0794" stop-color="#f8dc2a"/><stop offset="0.0952" stop-color="#fad62d"/><stop offset="0.1111" stop-color="#fcd030"/><stop offset="0.1270" stop-color="#fec934"/><stop offset="0.1429" stop-color="#fec239"/><stop offset="0.1587" stop-color="#fcbd3b"/><stop offset="0.1746" stop-color="#f5bb38"/><stop offset="0.1905" stop-color="#edba34"/><stop offset="0.2063" stop-color="#e2bc2d"/><stop offset="0.2222" stop-color="#d7be29"/><stop offset="0.2381" stop-color="#cbc12a"/><stop offset="0.2540" stop-color="#bfc32e"/><stop offset="0.2698" stop-color="#b2c535"/><stop offset="0.2857" stop-color="#a4c83e"/><stop offset="0.3016" stop-color="#96ca48"/><stop offset="0.3175" stop-color="#88cb53"/><stop offset="0.3333" stop-color="#79cc5e"/><stop offset="0.3492" stop-color="#6bcd69"/><stop offset="0.3651" stop-color="#5ecc74"/><stop offset="0.3810" stop-color="#52cc7e"/><stop offset="0.3968" stop-color="#47cb87"/><stop offset="0.4127" stop-color="#3dc991"/><stop offset="0.4286" stop-color="#35c79b"/><stop offset="0.4444" stop-color="#2ec5a3"/><stop offset="0.4603" stop-color="#28c3ab"/><stop offset="0.4762" stop-color="#1dc0b2"/><stop offset="0.4921" stop-color="#0fbeba"/><stop offset="0.5079" stop-color="#07bbc1"/><stop offset="0.5238" stop-color="#02b9c7"/><stop offset="0.5397" stop-color="#06b6cd"/><stop offset="0.5556" stop-color="#0db3d3"/><stop offset="0.5714" stop-color="#14b0d8"/><stop offset="0.5873" stop-color="#19acdc"/><stop offset="0.6032" stop-color="#1da8e0"/><stop offset="0.6190" stop-color="#21a4e3"/><stop offset="0.6349" stop-color="#239fe6"/><stop offset="0.6508" stop-color="#259ae9"/><stop offset="0.6667" stop-color="#2896ec"/><stop offset="0.6825" stop-color="#2b91ef"/><stop offset="0.6984" stop-color="#2d8cf3"/><stop offset="0.7143" stop-color="#2e87f7"/><stop offset="0.7302" stop-color="#3081fa"/><stop offset="0.7460" stop-color="#337cfc"/><stop offset="0.7619" stop-color="#3875fd"/><stop offset="0.7778" stop-color="#3e6ffe"/><stop offset="0.7937" stop-color="#4269fe"/><stop offset="0.8095" stop-color="#4563fd"/><stop offset="0.8254" stop-color="#465efa"/><stop offset="0.8413" stop-color="#4658f6"/><stop offset="0.8571" stop-color="#4752f3"/><stop offset="0.8730" stop-color="#484df0"/><stop offset="0.8889" stop-color="#4747e9"/><stop offset="0.9048" stop-color="#4642e3"/><stop offset="0.9206" stop-color="#463cdc"/><stop offset="0.9365" stop-color="#4537d5"/><stop offset="0.9524" stop-color="#4333ca"/><stop offset="0.9683" stop-color="#412fbf"/><stop offset="0.9841" stop-color="#402ab4"/><stop offset="1.0000" stop-color="#3e26a8"/></linearGradient></defs>
<rect x="295.20" y="286.60" width="13.20" height="215.90" fill="url(#ge)" stroke="#4d4d4d" stroke-width="0.9"/>
<rect x="306.00" y="291.58" width="2.4" height="1" fill="#262626"/>
<rect x="306.00" y="314.43" width="2.4" height="1" fill="#262626"/>
<rect x="306.00" y="337.28" width="2.4" height="1" fill="#262626"/>
<rect x="306.00" y="360.12" width="2.4" height="1" fill="#262626"/>
<rect x="306.00" y="382.97" width="2.4" height="1" fill="#262626"/>
<rect x="306.00" y="405.82" width="2.4" height="1" fill="#262626"/>
<rect x="306.00" y="428.66" width="2.4" height="1" fill="#262626"/>
<rect x="306.00" y="451.51" width="2.4" height="1" fill="#262626"/>
<rect x="306.00" y="474.36" width="2.4" height="1" fill="#262626"/>
<rect x="306.00" y="497.20" width="2.4" height="1" fill="#262626"/></svg>
<div class="yl" style="left:0.40px;top:187.03px">1</div>
<div class="yl" style="left:0.40px;top:151.06px">2</div>
<div class="yl" style="left:0.40px;top:115.09px">3</div>
<div class="yl" style="left:0.40px;top:79.13px">4</div>
<div class="yl" style="left:0.40px;top:43.16px">5</div>
<div class="yl" style="left:0.40px;top:7.19px">6</div>
<div class="xl" style="left:47.75px;top:223.70px">1</div>
<div class="xl" style="left:89.44px;top:223.70px">2</div>
<div class="xl" style="left:131.12px;top:223.70px">3</div>
<div class="lab" style="left:40.35px;top:237.10px">X coordinate [m]</div>
<div class="lab rot" style="left:-42.40px;top:108.00px">Y coordinate [m]</div>
<div class="cl" style="left:181.60px;top:6.02px">&minus;20</div>
<div class="cl" style="left:181.60px;top:26.65px">&minus;25</div>
<div class="cl" style="left:181.60px;top:47.28px">&minus;30</div>
<div class="cl" style="left:181.60px;top:67.91px">&minus;35</div>
<div class="cl" style="left:181.60px;top:88.54px">&minus;40</div>
<div class="cl" style="left:181.60px;top:109.16px">&minus;45</div>
<div class="cl" style="left:181.60px;top:129.79px">&minus;50</div>
<div class="cl" style="left:181.60px;top:150.42px">&minus;55</div>
<div class="cl" style="left:181.60px;top:171.05px">&minus;60</div>
<div class="cl" style="left:181.60px;top:191.68px">&minus;65</div>
<div class="cl" style="left:181.60px;top:212.31px">&minus;70</div>
<div class="cbl rot" style="left:163.80px;top:108.00px">RSSI [dBm]</div>
<div class="pl" style="left:91.50px;top:252.10px">(c)</div>
<div class="yl" style="left:255.60px;top:187.03px">1</div>
<div class="yl" style="left:255.60px;top:151.06px">2</div>
<div class="yl" style="left:255.60px;top:115.09px">3</div>
<div class="yl" style="left:255.60px;top:79.13px">4</div>
<div class="yl" style="left:255.60px;top:43.16px">5</div>
<div class="yl" style="left:255.60px;top:7.19px">6</div>
<div class="xl" style="left:302.95px;top:223.70px">1</div>
<div class="xl" style="left:344.64px;top:223.70px">2</div>
<div class="xl" style="left:386.32px;top:223.70px">3</div>
<div class="lab" style="left:295.55px;top:237.10px">X coordinate [m]</div>
<div class="lab rot" style="left:212.80px;top:108.00px">Y coordinate [m]</div>
<div class="cl" style="left:436.80px;top:14.20px">&minus;20</div>
<div class="cl" style="left:436.80px;top:33.95px">&minus;25</div>
<div class="cl" style="left:436.80px;top:53.70px">&minus;30</div>
<div class="cl" style="left:436.80px;top:73.45px">&minus;35</div>
<div class="cl" style="left:436.80px;top:93.20px">&minus;40</div>
<div class="cl" style="left:436.80px;top:112.94px">&minus;45</div>
<div class="cl" style="left:436.80px;top:132.69px">&minus;50</div>
<div class="cl" style="left:436.80px;top:152.44px">&minus;55</div>
<div class="cl" style="left:436.80px;top:172.19px">&minus;60</div>
<div class="cl" style="left:436.80px;top:191.94px">&minus;65</div>
<div class="cl" style="left:436.80px;top:211.69px">&minus;70</div>
<div class="cbl rot" style="left:419.00px;top:108.00px">RSSI [dBm]</div>
<div class="pl" style="left:346.70px;top:252.10px">(d)</div>
<div class="yl" style="left:131.40px;top:468.53px">1</div>
<div class="yl" style="left:131.40px;top:432.56px">2</div>
<div class="yl" style="left:131.40px;top:396.59px">3</div>
<div class="yl" style="left:131.40px;top:360.63px">4</div>
<div class="yl" style="left:131.40px;top:324.66px">5</div>
<div class="yl" style="left:131.40px;top:288.69px">6</div>
<div class="xl" style="left:178.75px;top:505.20px">1</div>
<div class="xl" style="left:220.44px;top:505.20px">2</div>
<div class="xl" style="left:262.12px;top:505.20px">3</div>
<div class="lab" style="left:171.35px;top:518.60px">X coordinate [m]</div>
<div class="lab rot" style="left:88.60px;top:389.50px">Y coordinate [m]</div>
<div class="cl" style="left:312.60px;top:288.38px">&minus;20</div>
<div class="cl" style="left:312.60px;top:311.23px">&minus;25</div>
<div class="cl" style="left:312.60px;top:334.08px">&minus;30</div>
<div class="cl" style="left:312.60px;top:356.92px">&minus;35</div>
<div class="cl" style="left:312.60px;top:379.77px">&minus;40</div>
<div class="cl" style="left:312.60px;top:402.62px">&minus;45</div>
<div class="cl" style="left:312.60px;top:425.46px">&minus;50</div>
<div class="cl" style="left:312.60px;top:448.31px">&minus;55</div>
<div class="cl" style="left:312.60px;top:471.16px">&minus;60</div>
<div class="cl" style="left:312.60px;top:494.00px">&minus;65</div>
<div class="cbl rot" style="left:294.80px;top:389.50px">RSSI [dBm]</div>
<div class="pl" style="left:222.50px;top:533.60px">(e)</div>
</body></html>
